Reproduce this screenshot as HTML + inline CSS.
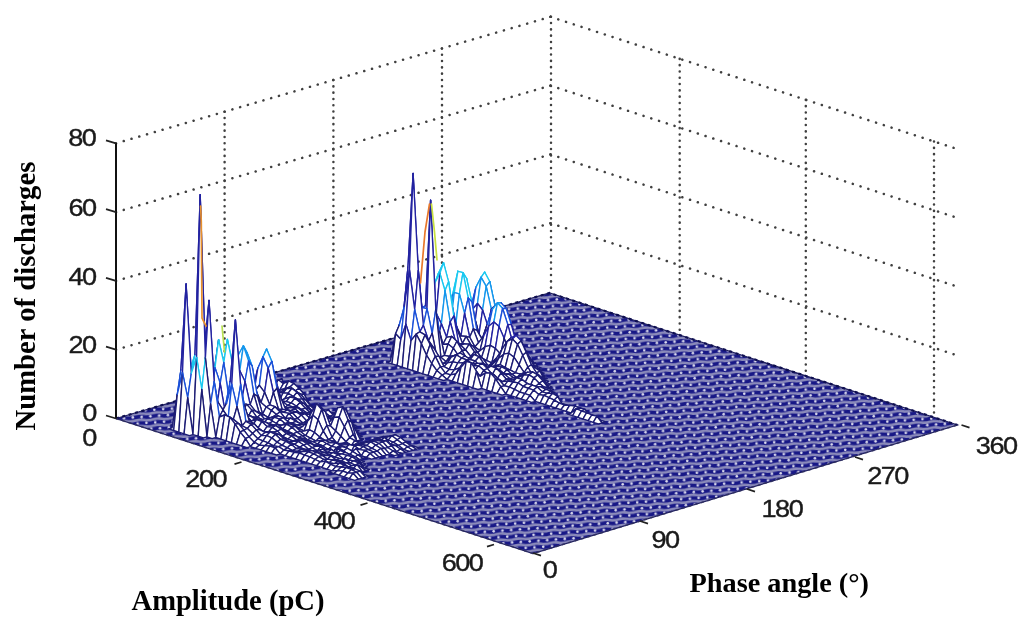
<!DOCTYPE html><html><head><meta charset="utf-8"><title>PRPD 3D</title><style>html,body{margin:0;padding:0;background:#fff;}svg{display:block}.tk{font-family:"Liberation Sans",Arial,sans-serif;font-size:23px;fill:#1a1a1a;stroke:#1a1a1a;stroke-width:0.35px;letter-spacing:-1.3px}.ti{font-family:"Liberation Serif","Times New Roman",serif;font-weight:bold;font-size:29px;fill:#000}.c0{stroke:#1c1c74}.c1{stroke:#2222a0}.c2{stroke:#1a50d8}.c3{stroke:#1496ec}.c4{stroke:#19c8f0}.c5{stroke:#5ee6c8}.c6{stroke:#c6e848}.c7{stroke:#f0c030}.c8{stroke:#ee8a2c}.c9{stroke:#d85a20}.f{stroke:none}.e{fill:none}</style></head><body><svg width="1024" height="626" viewBox="0 0 1024 626"><rect width="1024" height="626" fill="#fff"/><g fill="none" stroke="#404040" stroke-width="2.5" stroke-linecap="round"><path d="M550.5 223.2L116 349.7M550.5 154.4L116 280.9M550.5 85.6L116 212.1M550.5 16.8L116 143.3" stroke-dasharray="0.1 7.98"/><path d="M550.5 223.2L954.5 354.5M550.5 154.4L954.5 285.7M550.5 85.6L954.5 216.9M550.5 16.8L954.5 148.1" stroke-dasharray="0.1 8.05"/><path d="M224.6 111.7V386.9M333.4 80V355.2M442 48.4V323.6M551 16.7V291.9M679.7 58.8V334M805.8 99.8V375M934 141.5V416.7" stroke-dasharray="0.1 6.2"/></g><defs><pattern id="fl" patternUnits="userSpaceOnUse" width="17.6" height="12.6" patternTransform="rotate(-4)"><rect width="17.6" height="12.6" fill="#8a8aba"/><path d="M0 1.9C2.9 1.2 5.9 1.2 8.8 1.9S14.7 2.6 17.6 1.9V5.5C14.7 6.2 11.7 6.2 8.8 5.5S2.9 4.8 0 5.5Z" fill="#181886"/><path d="M0 8.2C2.9 7.5 5.9 7.5 8.8 8.2S14.7 8.9 17.6 8.2V11.8C14.7 12.5 11.7 12.5 8.8 11.8S2.9 11.1 0 11.8Z" fill="#181886"/><g fill="#dcdcee"><circle cx="2.2" cy="3.7" r="1.3"/><circle cx="11" cy="3.7" r="1.3"/><circle cx="6.6" cy="10" r="1.3"/><circle cx="15.4" cy="10" r="1.3"/></g></pattern></defs><path d="M116 418.5L549.5 293L957.5 425L533 553.5Z" fill="url(#fl)" stroke="#20205e" stroke-width="1.2"/><path d="M116 418.5L549.5 293L957.5 425" fill="none" stroke="#0e0e50" stroke-width="2.2" stroke-dasharray="3 3.6"/><path d="M116 418.5L533 553.5L957.5 425" fill="none" stroke="#303060" stroke-width="1.6" stroke-dasharray="3 3.6" opacity="0.8"/><g fill="#fff" stroke-width="1.35" stroke-linejoin="round" stroke-linecap="round"><path class="c0" d="M473.4 337l3.6-1l5.2 1.6l-3.7-18.5z"/><path class="c0" d="M469.8 338.1l3.6-1.1l5.1-17.9l-3.6-2.5z"/><path class="c0" d="M478.5 319.1l3.7 18.5l5.1 1.7l-3.6-19.9z"/><path class="c0" d="M466.2 339.1l3.6-1l5.1-21.5l-3.6 0.2z"/><path class="c0" d="M474.9 316.6l3.6 2.5l5.2 0.3l-3.6-2.7z"/><path class="c0" d="M462.6 340.2l3.6-1.1l5.1-22.3l-3.6 7.8z"/><path class="c0" d="M483.7 319.4l3.6 19.9l5.1 1.7l-3.6-16.6z"/><path class="c0" d="M471.3 316.8l3.6-0.2l5.2 0.1l-3.6 5.2z"/><path class="c0" d="M459 341.2l3.6-1l5.1-15.6l-3.6-10z"/><path class="c0" d="M480.1 316.7l3.6 2.7l5.1 5l-3.6-2.1z"/><path class="c0" d="M467.7 324.6l3.6-7.8l5.2 5.1l-3.6 4.1z"/><path class="c0" d="M488.8 324.4l3.6 16.6l5.1 1.6l-3.6-20.4z"/><path class="c0" d="M455.4 342.3l3.6-1.1l5.1-26.6l-3.6-2.1z"/><path class="c0" d="M476.5 321.9l3.6-5.2l5.1 5.6l-3.6 4.5z"/><path class="c0" d="M464.1 314.6l3.6 10l5.2 1.4l-3.6-10.1z"/><path class="c0" d="M485.2 322.3l3.6 2.1l5.1-2.2l-3.6-2.5z"/><path class="c0" d="M451.8 343.3l3.6-1l5.1-29.8l-3.6-2.3z"/><path class="c0" d="M472.9 326l3.6-4.1l5.1 4.9l-3.6-11.7z"/><path class="c0" d="M493.9 322.2l3.6 20.4l5.2 1.7l-3.6 1z"/><path class="c0" d="M460.5 312.5l3.6 2.1l5.2 1.3l-3.6-2.1z"/><path class="c0" d="M481.6 326.8l3.6-4.5l5.1-2.6l-3.6 2.1z"/><path class="c0" d="M448.2 344.4l3.6-1.1l5.1-33.1l-3.6 8.8z"/><path class="f" d="M469.3 315.9l3.6 10.1l5.1-10.9l-3.6-10z"/><path class="e c0" d="M469.3 315.9L472.9 326M472.9 326L478 315.1"/><path class="e c1" d="M469.3 315.9L474.4 305.1M474.4 305.1L478 315.1"/><path class="c0" d="M490.3 319.7l3.6 2.5l5.2 23.1l-3.6-25.1z"/><path class="c0" d="M456.9 310.2l3.6 2.3l5.2 1.3l-3.7 6.9z"/><path class="f" d="M478 315.1l3.6 11.7l5.1-5l-3.6-22.4z"/><path class="e c0" d="M478 315.1L481.6 326.8M481.6 326.8L486.7 321.8"/><path class="e c1" d="M478 315.1L483.1 299.4M483.1 299.4L486.7 321.8"/><path class="c0" d="M444.6 345.4l3.6-1l5.1-25.4l-3.6 0.5z"/><path class="f" d="M465.7 313.8l3.6 2.1l5.1-10.8l-3.6 3.1z"/><path class="e c0" d="M465.7 313.8L469.3 315.9"/><path class="e c1" d="M465.7 313.8L470.8 308.2M469.3 315.9L474.4 305.1M470.8 308.2L474.4 305.1"/><path class="c0" d="M486.7 321.8l3.6-2.1l5.2 0.5l-3.6-1.3z"/><path class="c0" d="M453.3 319l3.6-8.8l5.1 10.5l-3.6 4.4z"/><path class="f" d="M474.4 305.1l3.6 10l5.1-15.7l-3.6-16.5z"/><path class="e c1" d="M474.4 305.1L478 315.1M478 315.1L483.1 299.4"/><path class="e c3" d="M474.4 305.1L479.5 282.9M479.5 282.9L483.1 299.4"/><path class="c0" d="M495.5 320.2l3.6 25.1l5.1 1.7l-3.6-21.6z"/><path class="c0" d="M441 346.5l3.6-1.1l5.1-25.9l-3.6 6.6z"/><path class="f" d="M462 320.7l3.7-6.9l5.1-5.6l-3.6 12.1z"/><path class="e c0" d="M467.2 320.3L462 320.7L465.7 313.8"/><path class="e c1" d="M465.7 313.8L470.8 308.2M467.2 320.3L470.8 308.2"/><path class="f" d="M483.1 299.4l3.6 22.4l5.2-2.9l-3.6-26.9z"/><path class="e c1" d="M483.1 299.4L486.7 321.8"/><path class="e c2" d="M483.1 299.4L488.3 292M488.3 292L491.9 318.9"/><path class="e c0" d="M486.7 321.8L491.9 318.9"/><path class="c0" d="M449.7 319.5l3.6-0.5l5.1 6.1l-3.6-0.2z"/><path class="f" d="M470.8 308.2l3.6-3.1l5.1-22.2l-3.6 4.5z"/><path class="e c1" d="M470.8 308.2L474.4 305.1"/><path class="e c2" d="M470.8 308.2L475.9 287.4"/><path class="e c3" d="M474.4 305.1L479.5 282.9M475.9 287.4L479.5 282.9"/><path class="c0" d="M491.9 318.9l3.6 1.3l5.1 5.2l-3.6-2z"/><path class="c0" d="M437.4 347.5l3.6-1l5.1-20.4l-3.6-3.2z"/><path class="c0" d="M458.4 325.1l3.6-4.4l5.2-0.4l-3.6 0.7z"/><path class="f" d="M479.5 282.9l3.6 16.5l5.2-7.4l-3.6-19.8z"/><path class="e c3" d="M479.5 282.9L483.1 299.4"/><path class="e c4" d="M479.5 282.9L484.7 272.2M484.7 272.2L488.3 292"/><path class="e c2" d="M483.1 299.4L488.3 292"/><path class="c0" d="M500.6 325.4l3.6 21.6l5.1 1.7l-3.6-22.8z"/><path class="c0" d="M446.1 326.1l3.6-6.6l5.1 5.4l-3.6-2.2z"/><path class="f" d="M467.2 320.3l3.6-12.1l5.1-20.8l-3.6 22.1z"/><path class="e c1" d="M472.3 309.5L467.2 320.3L470.8 308.2"/><path class="e c2" d="M470.8 308.2L475.9 287.4M472.3 309.5L475.9 287.4"/><path class="f" d="M488.3 292l3.6 26.9l5.1 4.5l-3.6-24z"/><path class="e c2" d="M493.4 299.4L488.3 292L491.9 318.9"/><path class="e c0" d="M491.9 318.9L497 323.4"/><path class="e c1" d="M493.4 299.4L497 323.4"/><path class="c0" d="M433.8 348.6l3.6-1.1l5.1-24.6l-3.6-3.4z"/><path class="c0" d="M454.8 324.9l3.6 0.2l5.2-4.1l-3.6-4.7z"/><path class="f" d="M475.9 287.4l3.6-4.5l5.2-10.7l-3.6 5.1z"/><path class="e c3" d="M481.1 277.3L475.9 287.4L479.5 282.9"/><path class="e c4" d="M479.5 282.9L484.7 272.2M481.1 277.3L484.7 272.2"/><path class="c0" d="M497 323.4l3.6 2l5.1 0.5l-3.6 4.3z"/><path class="c0" d="M442.5 322.9l3.6 3.2l5.1-3.4l-3.6-1.4z"/><path class="f" d="M463.6 321l3.6-0.7l5.1-10.8l-3.6 16z"/><path class="e c0" d="M468.7 325.5L463.6 321L467.2 320.3"/><path class="e c1" d="M467.2 320.3L472.3 309.5M468.7 325.5L472.3 309.5"/><path class="f" d="M484.7 272.2l3.6 19.8l5.1 7.4l-3.6-17.7z"/><path class="e c4" d="M489.8 281.7L484.7 272.2L488.3 292"/><path class="e c2" d="M488.3 292L493.4 299.4"/><path class="e c3" d="M489.8 281.7L493.4 299.4"/><path class="c0" d="M505.7 325.9l3.6 22.8l5.1 1.6l-3.6-18.8z"/><path class="c0" d="M430.1 349.6l3.7-1l5.1-29.1l-3.6 5.8z"/><path class="f" d="M451.2 322.7l3.6 2.2l5.2-8.6l-3.6-18.6z"/><path class="e c0" d="M451.2 322.7L454.8 324.9M454.8 324.9L460 316.3"/><path class="e c2" d="M451.2 322.7L456.4 297.7M456.4 297.7L460 316.3"/><path class="f" d="M472.3 309.5l3.6-22.1l5.2-10.1l-3.6 26.2z"/><path class="e c2" d="M472.3 309.5L475.9 287.4"/><path class="e c1" d="M472.3 309.5L477.5 303.5"/><path class="e c3" d="M475.9 287.4L481.1 277.3M477.5 303.5L481.1 277.3"/><path class="f" d="M493.4 299.4l3.6 24l5.1 6.8l-3.6-12.9z"/><path class="e c1" d="M498.5 317.3L493.4 299.4L497 323.4"/><path class="e c0" d="M497 323.4L502.1 330.2M498.5 317.3L502.1 330.2"/><path class="c0" d="M438.9 319.5l3.6 3.4l5.1-1.6l-3.6 5.5z"/><path class="f" d="M460 316.3l3.6 4.7l5.1 4.5l-3.6-21.6z"/><path class="e c0" d="M460 316.3L463.6 321M463.6 321L468.7 325.5"/><path class="e c1" d="M460 316.3L465.1 303.9M465.1 303.9L468.7 325.5"/><path class="f" d="M481.1 277.3l3.6-5.1l5.1 9.5l-3.6 4.6z"/><path class="e c4" d="M481.1 277.3L484.7 272.2M484.7 272.2L489.8 281.7"/><path class="e c3" d="M481.1 277.3L486.2 286.3M486.2 286.3L489.8 281.7"/><path class="c0" d="M502.1 330.2l3.6-4.3l5.1 5.6l-3.5 3.8z"/><path class="c0" d="M426.5 350.7l3.6-1.1l5.2-24.3l-3.6 11.1z"/><path class="f" d="M447.6 321.3l3.6 1.4l5.2-25l-3.6-3.8z"/><path class="e c0" d="M447.6 321.3L451.2 322.7"/><path class="e c2" d="M447.6 321.3L452.8 293.9M451.2 322.7L456.4 297.7M452.8 293.9L456.4 297.7"/><path class="f" d="M468.7 325.5l3.6-16l5.2-6l-3.6 27.3z"/><path class="e c1" d="M468.7 325.5L472.3 309.5M472.3 309.5L477.5 303.5M473.9 330.8L477.5 303.5"/><path class="e c0" d="M468.7 325.5L473.9 330.8"/><path class="f" d="M489.8 281.7l3.6 17.7l5.1 17.9l-3.6-11.6z"/><path class="e c3" d="M494.9 305.7L489.8 281.7L493.4 299.4"/><path class="e c1" d="M493.4 299.4L498.5 317.3M494.9 305.7L498.5 317.3"/><path class="c0" d="M510.8 331.5l3.6 18.8l5.2 1.7l-3.6-12.1z"/><path class="c0" d="M435.3 325.3l3.6-5.8l5.1 7.3l-3.6 4.9z"/><path class="f" d="M456.4 297.7l3.6 18.6l5.1-12.4l-3.6-26.7z"/><path class="e c2" d="M456.4 297.7L460 316.3"/><path class="e c4" d="M456.4 297.7L461.5 277.2M461.5 277.2L465.1 303.9"/><path class="e c1" d="M460 316.3L465.1 303.9"/><path class="f" d="M477.5 303.5l3.6-26.2l5.1 9l-3.6 23.7z"/><path class="e c3" d="M477.5 303.5L481.1 277.3M481.1 277.3L486.2 286.3M482.6 310L486.2 286.3"/><path class="e c1" d="M477.5 303.5L482.6 310"/><path class="c0" d="M498.5 317.3l3.6 12.9l5.2 5.1l-3.6 0.5z"/><path class="c0" d="M422.9 351.7l3.6-1l5.2-14.3l-3.6-5.7z"/><path class="f" d="M444 326.8l3.6-5.5l5.2-27.4l-3.6 15.3z"/><path class="e c0" d="M444 326.8L447.6 321.3"/><path class="e c1" d="M444 326.8L449.2 309.2"/><path class="e c2" d="M447.6 321.3L452.8 293.9M449.2 309.2L452.8 293.9"/><path class="f" d="M465.1 303.9l3.6 21.6l5.2 5.3l-3.6-25.5z"/><path class="e c1" d="M470.3 305.3L465.1 303.9L468.7 325.5M470.3 305.3L473.9 330.8"/><path class="e c0" d="M468.7 325.5L473.9 330.8"/><path class="f" d="M486.2 286.3l3.6-4.6l5.1 24l-3.6 3.5z"/><path class="e c3" d="M491.3 309.2L486.2 286.3L489.8 281.7M489.8 281.7L494.9 305.7"/><path class="e c1" d="M491.3 309.2L494.9 305.7"/><path class="c0" d="M507.3 335.3l3.5-3.8l5.2 8.4l-3.6 2.9z"/><path class="c0" d="M431.7 336.4l3.6-11.1l5.1 6.4l-3.6-12.5z"/><path class="f" d="M452.8 293.9l3.6 3.8l5.1-20.5l-3.6-5.9z"/><path class="e c2" d="M452.8 293.9L456.4 297.7"/><path class="e c4" d="M452.8 293.9L457.9 271.3M456.4 297.7L461.5 277.2M457.9 271.3L461.5 277.2"/><path class="f" d="M473.9 330.8l3.6-27.3l5.1 6.5l-3.6 24.7z"/><path class="e c1" d="M473.9 330.8L477.5 303.5M477.5 303.5L482.6 310M479 334.7L482.6 310"/><path class="e c0" d="M473.9 330.8L479 334.7"/><path class="f" d="M494.9 305.7l3.6 11.6l5.2 18.5l-3.6-5.4z"/><path class="e c1" d="M500.1 330.4L494.9 305.7L498.5 317.3"/><path class="e c0" d="M498.5 317.3L503.7 335.8M500.1 330.4L503.7 335.8"/><path class="c0" d="M419.3 352.8l3.6-1.1l5.2-21l-3.6-10.1z"/><path class="c0" d="M516 339.9l3.6 12.1l5.1 1.6l-3.6 1.1z"/><path class="f" d="M440.4 331.7l3.6-4.9l5.2-17.6l-3.6 22.2z"/><path class="e c0" d="M445.6 331.4L440.4 331.7L444 326.8"/><path class="e c1" d="M444 326.8L449.2 309.2M445.6 331.4L449.2 309.2"/><path class="f" d="M461.5 277.2l3.6 26.7l5.2 1.4l-3.7-26.8z"/><path class="e c4" d="M466.6 278.5L461.5 277.2L465.1 303.9M466.6 278.5L470.3 305.3"/><path class="e c1" d="M465.1 303.9L470.3 305.3"/><path class="f" d="M482.6 310l3.6-23.7l5.1 22.9l-3.6 16.4z"/><path class="e c3" d="M482.6 310L486.2 286.3M486.2 286.3L491.3 309.2"/><path class="e c1" d="M482.6 310L487.7 325.6M487.7 325.6L491.3 309.2"/><path class="c0" d="M503.7 335.8l3.6-0.5l5.1 7.5l-3.6 5.5z"/><path class="f" d="M428.1 330.7l3.6 5.7l5.1-17.2l-3.6-15.7z"/><path class="e c0" d="M428.1 330.7L431.7 336.4M431.7 336.4L436.8 319.2"/><path class="e c1" d="M428.1 330.7L433.2 303.5M433.2 303.5L436.8 319.2"/><path class="f" d="M449.2 309.2l3.6-15.3l5.1-22.6l-3.6 21.3z"/><path class="e c2" d="M449.2 309.2L452.8 293.9"/><path class="e c3" d="M449.2 309.2L454.3 292.6"/><path class="e c4" d="M452.8 293.9L457.9 271.3M454.3 292.6L457.9 271.3"/><path class="f" d="M470.3 305.3l3.6 25.5l5.1 3.9l-3.6-13.9z"/><path class="e c1" d="M475.4 320.8L470.3 305.3L473.9 330.8"/><path class="e c0" d="M473.9 330.8L479 334.7M475.4 320.8L479 334.7"/><path class="f" d="M491.3 309.2l3.6-3.5l5.2 24.7l-3.6 2.3z"/><path class="e c1" d="M496.5 332.7L491.3 309.2L494.9 305.7M494.9 305.7L500.1 330.4"/><path class="e c0" d="M496.5 332.7L500.1 330.4"/><path class="c0" d="M415.7 353.8l3.6-1l5.2-32.2l-3.6 1.7z"/><path class="c0" d="M512.4 342.8l3.6-2.9l5.1 14.8l-3.6-4.9z"/><path class="f" d="M436.8 319.2l3.6 12.5l5.2-0.3l-3.6-31.9z"/><path class="e c0" d="M436.8 319.2L440.4 331.7M440.4 331.7L445.6 331.4"/><path class="e c2" d="M436.8 319.2L442 299.5M442 299.5L445.6 331.4"/><path class="c4" d="M457.9 271.3l3.6 5.9l5.1 1.3l-3.6-5.9z"/><path class="f" d="M479 334.7l3.6-24.7l5.1 15.6l-3.6 16.2z"/><path class="e c1" d="M479 334.7L482.6 310M482.6 310L487.7 325.6"/><path class="e c0" d="M479 334.7L484.1 341.8M484.1 341.8L487.7 325.6"/><path class="c0" d="M500.1 330.4l3.6 5.4l5.1 12.5l-3.6-1.5z"/><path class="f" d="M424.5 320.6l3.6 10.1l5.1-27.2l-3.6 6.3z"/><path class="e c0" d="M424.5 320.6L428.1 330.7"/><path class="e c1" d="M424.5 320.6L429.6 309.8M428.1 330.7L433.2 303.5M429.6 309.8L433.2 303.5"/><path class="f" d="M445.6 331.4l3.6-22.2l5.1-16.6l-3.6 30.9z"/><path class="e c1" d="M445.6 331.4L449.2 309.2"/><path class="e c0" d="M445.6 331.4L450.7 323.5"/><path class="e c3" d="M449.2 309.2L454.3 292.6M450.7 323.5L454.3 292.6"/><path class="f" d="M466.6 278.5l3.7 26.8l5.1 15.5l-3.6-18.9z"/><path class="e c4" d="M471.8 301.9L466.6 278.5L470.3 305.3"/><path class="e c1" d="M470.3 305.3L475.4 320.8"/><path class="e c2" d="M471.8 301.9L475.4 320.8"/><path class="f" d="M487.7 325.6l3.6-16.4l5.2 23.5l-3.6 8.9z"/><path class="e c1" d="M487.7 325.6L491.3 309.2M491.3 309.2L496.5 332.7"/><path class="e c0" d="M487.7 325.6L492.9 341.6M492.9 341.6L496.5 332.7"/><path class="c0" d="M412.1 354.9l3.6-1.1l5.2-31.5l-3.6 13.5z"/><path class="c0" d="M508.8 348.3l3.6-5.5l5.1 7l-3.6-2z"/><path class="f" d="M433.2 303.5l3.6 15.7l5.2-19.7l-3.6-26z"/><path class="e c1" d="M433.2 303.5L436.8 319.2"/><path class="e c4" d="M433.2 303.5L438.4 273.5M438.4 273.5L442 299.5"/><path class="e c2" d="M436.8 319.2L442 299.5"/><path class="f" d="M454.3 292.6l3.6-21.3l5.1 1.3l-3.6 21.3z"/><path class="e c4" d="M454.3 292.6L457.9 271.3M457.9 271.3L463 272.6M459.4 293.9L463 272.6"/><path class="e c3" d="M454.3 292.6L459.4 293.9"/><path class="c0" d="M475.4 320.8l3.6 13.9l5.1 7.1l-3.6-2.4z"/><path class="c0" d="M496.5 332.7l3.6-2.3l5.1 16.4l-3.6 1.6z"/><path class="f" d="M420.9 322.3l3.6-1.7l5.1-10.8l-3.6 21.4z"/><path class="e c0" d="M426 331.2L420.9 322.3L424.5 320.6"/><path class="e c1" d="M424.5 320.6L429.6 309.8M426 331.2L429.6 309.8"/><path class="c0" d="M517.5 349.8l3.6 4.9l5.1 1.6l-3.6 1.1z"/><path class="f" d="M442 299.5l3.6 31.9l5.1-7.9l-3.6-30.7z"/><path class="e c2" d="M442 299.5L445.6 331.4"/><path class="e c3" d="M442 299.5L447.1 292.8M447.1 292.8L450.7 323.5"/><path class="e c0" d="M445.6 331.4L450.7 323.5"/><path class="f" d="M463 272.6l3.6 5.9l5.2 23.4l-3.6-4z"/><path class="e c4" d="M468.2 297.9L463 272.6L466.6 278.5M466.6 278.5L471.8 301.9"/><path class="e c2" d="M468.2 297.9L471.8 301.9"/><path class="c0" d="M484.1 341.8l3.6-16.2l5.2 16l-3.6 2.3z"/><path class="c0" d="M408.5 355.9l3.6-1l5.2-19.1l-3.6 3.3z"/><path class="c0" d="M505.2 346.8l3.6 1.5l5.1-0.5l-3.6-2.1z"/><path class="f" d="M429.6 309.8l3.6-6.3l5.2-30l-3.6 9.4z"/><path class="e c1" d="M429.6 309.8L433.2 303.5"/><path class="e c3" d="M429.6 309.8L434.8 282.9"/><path class="e c4" d="M433.2 303.5L438.4 273.5M434.8 282.9L438.4 273.5"/><path class="f" d="M450.7 323.5l3.6-30.9l5.1 1.3l-3.6 31.1z"/><path class="e c3" d="M450.7 323.5L454.3 292.6M454.3 292.6L459.4 293.9M455.8 325L459.4 293.9"/><path class="e c0" d="M450.7 323.5L455.8 325"/><path class="f" d="M471.8 301.9l3.6 18.9l5.1 18.6l-3.6-9.1z"/><path class="e c2" d="M476.9 330.3L471.8 301.9L475.4 320.8"/><path class="e c0" d="M475.4 320.8L480.5 339.4M476.9 330.3L480.5 339.4"/><path class="c0" d="M492.9 341.6l3.6-8.9l5.1 15.7l-3.6-1.7z"/><path class="c0" d="M417.3 335.8l3.6-13.5l5.1 8.9l-3.6-3.7z"/><path class="c0" d="M513.9 347.8l3.6 2l5.1 7.6l-3.6-10.7z"/><path class="f" d="M438.4 273.5l3.6 26l5.1-6.7l-3.6-30.1z"/><path class="e c4" d="M443.5 262.7L438.4 273.5L442 299.5M443.5 262.7L447.1 292.8"/><path class="e c3" d="M442 299.5L447.1 292.8"/><path class="f" d="M459.4 293.9l3.6-21.3l5.2 25.3l-3.6 15.6z"/><path class="e c4" d="M459.4 293.9L463 272.6M463 272.6L468.2 297.9"/><path class="e c3" d="M459.4 293.9L464.6 313.5"/><path class="e c2" d="M464.6 313.5L468.2 297.9"/><path class="c0" d="M480.5 339.4l3.6 2.4l5.2 2.1l-3.6-5.4z"/><path class="c0" d="M404.9 357l3.6-1.1l5.2-16.8l-3.7-5.6z"/><path class="c0" d="M501.6 348.4l3.6-1.6l5.1-1.1l-3.6 6.4z"/><path class="f" d="M426 331.2l3.6-21.4l5.2-26.9l-3.6 35.1z"/><path class="e c1" d="M431.2 318L426 331.2L429.6 309.8"/><path class="e c3" d="M429.6 309.8L434.8 282.9M431.2 318L434.8 282.9"/><path class="f" d="M447.1 292.8l3.6 30.7l5.1 1.5l-3.6-18.8z"/><path class="e c3" d="M452.2 306.2L447.1 292.8L450.7 323.5"/><path class="e c0" d="M450.7 323.5L455.8 325"/><path class="e c2" d="M452.2 306.2L455.8 325"/><path class="f" d="M468.2 297.9l3.6 4l5.1 28.4l-3.6-1.4z"/><path class="e c2" d="M473.3 328.9L468.2 297.9L471.8 301.9M471.8 301.9L476.9 330.3"/><path class="e c0" d="M473.3 328.9L476.9 330.3"/><path class="c0" d="M489.3 343.9l3.6-2.3l5.1 5.1l-3.6-12z"/><path class="c0" d="M413.7 339.1l3.6-3.3l5.1-8.3l-3.6 1.2z"/><path class="c0" d="M510.3 345.7l3.6 2.1l5.1-1.1l-3.5-3z"/><path class="c4" d="M434.8 282.9l3.6-9.4l5.1-10.8l-3.6 10.7z"/><path class="f" d="M455.8 325l3.6-31.1l5.2 19.6l-3.6 22.5z"/><path class="e c3" d="M455.8 325L459.4 293.9M459.4 293.9L464.6 313.5"/><path class="e c0" d="M455.8 325L461 336"/><path class="e c1" d="M461 336L464.6 313.5"/><path class="c0" d="M476.9 330.3l3.6 9.1l5.2-0.9l-3.6 0.6z"/><path class="c0" d="M401.3 358l3.6-1l5.1-23.5l-3.6 1z"/><path class="c0" d="M498 346.7l3.6 1.7l5.1 3.7l-3.6-8.8z"/><path class="f" d="M422.4 327.5l3.6 3.7l5.2-13.2l-3.6 15.5z"/><path class="e c0" d="M427.6 333.5L422.4 327.5L426 331.2"/><path class="e c1" d="M426 331.2L431.2 318M427.6 333.5L431.2 318"/><path class="c0" d="M519 346.7l3.6 10.7l5.2 1.7l-3.6-7.5z"/><path class="f" d="M443.5 262.7l3.6 30.1l5.1 13.4l-3.6-24.4z"/><path class="e c4" d="M448.6 281.8L443.5 262.7L447.1 292.8M448.6 281.8L452.2 306.2"/><path class="e c3" d="M447.1 292.8L452.2 306.2"/><path class="f" d="M464.6 313.5l3.6-15.6l5.1 31l-3.6 8.4z"/><path class="e c2" d="M464.6 313.5L468.2 297.9M468.2 297.9L473.3 328.9"/><path class="e c1" d="M464.6 313.5L469.7 337.3"/><path class="e c0" d="M469.7 337.3L473.3 328.9"/><path class="c0" d="M485.7 338.5l3.6 5.4l5.1-9.2l-3.6-10.6z"/><path class="c0" d="M410 333.5l3.7 5.6l5.1-10.4l-3.6-0.8z"/><path class="c0" d="M506.7 352.1l3.6-6.4l5.2-2l-3.6 8z"/><path class="f" d="M431.2 318l3.6-35.1l5.1-9.5l-3.6 40.2z"/><path class="e c3" d="M431.2 318L434.8 282.9"/><path class="e c1" d="M431.2 318L436.3 313.6M436.3 313.6L439.9 273.4"/><path class="e c4" d="M434.8 282.9L439.9 273.4"/><path class="f" d="M452.2 306.2l3.6 18.8l5.2 11l-3.6-6.1z"/><path class="e c2" d="M457.4 329.9L452.2 306.2L455.8 325"/><path class="e c0" d="M455.8 325L461 336M457.4 329.9L461 336"/><path class="c0" d="M473.3 328.9l3.6 1.4l5.2 8.8l-3.6 3.7z"/><path class="f" d="M397.7 359l3.6-1l5.1-23.5l-3.6-15.7z"/><path class="e c0" d="M402.8 318.8L397.7 359L401.3 358M401.3 358L406.4 334.5"/><path class="e c1" d="M402.8 318.8L406.4 334.5"/><path class="c0" d="M494.4 334.7l3.6 12l5.1-3.4l-3.6-17.8z"/><path class="c0" d="M418.8 328.7l3.6-1.2l5.2 6l-3.7-0.2z"/><path class="c0" d="M515.5 343.7l3.5 3l5.2 4.9l-3.6-1.9z"/><path class="c4" d="M439.9 273.4l3.6-10.7l5.1 19.1l-3.6 8.9z"/><path class="f" d="M461 336l3.6-22.5l5.1 23.8l-3.6-0.9z"/><path class="e c1" d="M461 336L464.6 313.5M464.6 313.5L469.7 337.3"/><path class="e c0" d="M461 336L466.1 336.4M466.1 336.4L469.7 337.3"/><path class="c0" d="M482.1 339.1l3.6-0.6l5.1-14.4l-3.6 0.2z"/><path class="f" d="M406.4 334.5l3.6-1l5.2-5.6l-3.6-23.8z"/><path class="e c0" d="M406.4 334.5L410 333.5M410 333.5L415.2 327.9"/><path class="e c2" d="M406.4 334.5L411.6 304.1M411.6 304.1L415.2 327.9"/><path class="c0" d="M503.1 343.3l3.6 8.8l5.2-0.4l-3.6-9.5z"/><path class="f" d="M427.6 333.5l3.6-15.5l5.1-4.4l-3.6 23.7z"/><path class="e c1" d="M427.6 333.5L431.2 318M431.2 318L436.3 313.6M432.7 337.3L436.3 313.6"/><path class="e c0" d="M427.6 333.5L432.7 337.3"/><path class="c0" d="M524.2 351.6l3.6 7.5l5.1 1.6l-3.6 1.1z"/><path class="f" d="M448.6 281.8l3.6 24.4l5.2 23.7l-3.6-13.7z"/><path class="e c4" d="M453.8 316.2L448.6 281.8L452.2 306.2"/><path class="e c2" d="M452.2 306.2L457.4 329.9"/><path class="e c1" d="M453.8 316.2L457.4 329.9"/><path class="c0" d="M469.7 337.3l3.6-8.4l5.2 13.9l-3.6 4.1z"/><path class="f" d="M394.1 360.1l3.6-1.1l5.1-40.2l-3.6 6.4z"/><path class="e c0" d="M399.2 325.2L394.1 360.1L397.7 359M397.7 359L402.8 318.8"/><path class="e c1" d="M399.2 325.2L402.8 318.8"/><path class="f" d="M490.8 324.1l3.6 10.6l5.1-9.2l-3.6-15.9z"/><path class="e c0" d="M490.8 324.1L494.4 334.7M494.4 334.7L499.5 325.5"/><path class="e c2" d="M490.8 324.1L495.9 309.6M495.9 309.6L499.5 325.5"/><path class="f" d="M415.2 327.9l3.6 0.8l5.1 4.6l-3.6-13.3z"/><path class="e c0" d="M415.2 327.9L418.8 328.7M418.8 328.7L423.9 333.3"/><path class="e c1" d="M415.2 327.9L420.3 320M420.3 320L423.9 333.3"/><path class="c0" d="M511.9 351.7l3.6-8l5.1 6l-3.6 6.1z"/><path class="f" d="M436.3 313.6l3.6-40.2l5.1 17.3l-3.6 33.1z"/><path class="e c1" d="M441.4 323.8L436.3 313.6L439.9 273.4"/><path class="e c4" d="M439.9 273.4L445 290.7"/><path class="e c3" d="M441.4 323.8L445 290.7"/><path class="c0" d="M457.4 329.9l3.6 6.1l5.1 0.4l-3.6 7.1z"/><path class="c0" d="M478.5 342.8l3.6-3.7l5.1-14.8l-3.6 11.9z"/><path class="f" d="M402.8 318.8l3.6 15.7l5.2-30.4l-3.6-37z"/><path class="e c1" d="M408 267.1L402.8 318.8L406.4 334.5M408 267.1L411.6 304.1"/><path class="e c2" d="M406.4 334.5L411.6 304.1"/><path class="f" d="M499.5 325.5l3.6 17.8l5.2-1.1l-3.6-20.8z"/><path class="e c0" d="M499.5 325.5L503.1 343.3M503.1 343.3L508.3 342.2"/><path class="e c1" d="M499.5 325.5L504.7 321.4M504.7 321.4L508.3 342.2"/><path class="c0" d="M423.9 333.3l3.7 0.2l5.1 3.8l-3.6-9.4z"/><path class="c0" d="M520.6 349.7l3.6 1.9l5.1 10.2l-3.6-3.6z"/><path class="f" d="M445 290.7l3.6-8.9l5.2 34.4l-3.6 5.6z"/><path class="e c4" d="M445 290.7L448.6 281.8M448.6 281.8L453.8 316.2"/><path class="e c3" d="M445 290.7L450.2 321.8"/><path class="e c1" d="M450.2 321.8L453.8 316.2"/><path class="c0" d="M466.1 336.4l3.6 0.9l5.2 9.6l-3.6-1.2z"/><path class="c0" d="M390.5 361.1l3.6-1l5.1-34.9l-3.6 8.6z"/><path class="f" d="M487.2 324.3l3.6-0.2l5.1-14.5l-3.6 0z"/><path class="e c0" d="M487.2 324.3L490.8 324.1"/><path class="e c2" d="M487.2 324.3L492.3 309.6M490.8 324.1L495.9 309.6M492.3 309.6L495.9 309.6"/><path class="f" d="M411.6 304.1l3.6 23.8l5.1-7.9l-3.6-52.3z"/><path class="e c2" d="M411.6 304.1L415.2 327.9"/><path class="e c1" d="M411.6 304.1L416.7 267.7M415.2 327.9L420.3 320M416.7 267.7L420.3 320"/><path class="c0" d="M508.3 342.2l3.6 9.5l5.1 4.1l-3.6-10.6z"/><path class="f" d="M432.7 337.3l3.6-23.7l5.1 10.2l-3.6 15.6z"/><path class="e c1" d="M432.7 337.3L436.3 313.6M436.3 313.6L441.4 323.8M437.8 339.4L441.4 323.8"/><path class="e c0" d="M432.7 337.3L437.8 339.4"/><path class="f" d="M453.8 316.2l3.6 13.7l5.1 13.6l-3.6 1z"/><path class="e c1" d="M458.9 344.5L453.8 316.2L457.4 329.9"/><path class="e c0" d="M457.4 329.9L462.5 343.5M458.9 344.5L462.5 343.5"/><path class="c0" d="M474.9 346.9l3.6-4.1l5.1-6.6l-3.6 14.5z"/><path class="f" d="M399.2 325.2l3.6-6.4l5.2-51.7l-3.6 39.1z"/><path class="e c1" d="M399.2 325.2L402.8 318.8M402.8 318.8L408 267.1M404.4 306.2L408 267.1"/><path class="e c2" d="M399.2 325.2L404.4 306.2"/><path class="f" d="M495.9 309.6l3.6 15.9l5.2-4.1l-3.6-18.5z"/><path class="e c2" d="M501.1 302.9L495.9 309.6L499.5 325.5M501.1 302.9L504.7 321.4"/><path class="e c1" d="M499.5 325.5L504.7 321.4"/><path class="f" d="M420.3 320l3.6 13.3l5.2-5.4l-3.6-22z"/><path class="e c1" d="M420.3 320L423.9 333.3"/><path class="e c2" d="M420.3 320L425.5 305.9M425.5 305.9L429.1 327.9"/><path class="e c0" d="M423.9 333.3L429.1 327.9"/><path class="c0" d="M517 355.8l3.6-6.1l5.1 8.5l-3.6 1.2z"/><path class="f" d="M441.4 323.8l3.6-33.1l5.2 31.1l-3.6 15.5z"/><path class="e c3" d="M441.4 323.8L445 290.7M445 290.7L450.2 321.8"/><path class="e c1" d="M441.4 323.8L446.6 337.3M446.6 337.3L450.2 321.8"/><path class="c0" d="M462.5 343.5l3.6-7.1l5.2 9.3l-3.6 0.1z"/><path class="c0" d="M386.9 362.2l3.6-1.1l5.1-27.3l-3.6 30.1z"/><path class="f" d="M483.6 336.2l3.6-11.9l5.1-14.7l-3.6 16.7z"/><path class="e c0" d="M483.6 336.2L487.2 324.3"/><path class="e c1" d="M483.6 336.2L488.7 326.3"/><path class="e c2" d="M487.2 324.3L492.3 309.6M488.7 326.3L492.3 309.6"/><path class="c1" d="M408 267.1l3.6 37l5.1-36.4l-3.6-94.3z"/><path class="f" d="M504.7 321.4l3.6 20.8l5.1 3l-3.6-19.3z"/><path class="e c1" d="M509.8 325.9L504.7 321.4L508.3 342.2M509.8 325.9L513.4 345.2"/><path class="e c0" d="M508.3 342.2L513.4 345.2"/><path class="f" d="M429.1 327.9l3.6 9.4l5.1 2.1l-3.6-32.9z"/><path class="e c0" d="M429.1 327.9L432.7 337.3M432.7 337.3L437.8 339.4"/><path class="e c2" d="M429.1 327.9L434.2 306.5M434.2 306.5L437.8 339.4"/><path class="c0" d="M525.7 358.2l3.6 3.6l5.1 1.6l-3.5 1.1z"/><path class="f" d="M450.2 321.8l3.6-5.6l5.1 28.3l-3.6-3.9z"/><path class="e c1" d="M455.3 340.6L450.2 321.8L453.8 316.2M453.8 316.2L458.9 344.5"/><path class="e c0" d="M455.3 340.6L458.9 344.5"/><path class="c0" d="M471.3 345.7l3.6 1.2l5.1 3.8l-3.6 2.4z"/><path class="f" d="M395.6 333.8l3.6-8.6l5.2-19l-3.6 33.1z"/><path class="e c0" d="M400.8 339.3L395.6 333.8L399.2 325.2"/><path class="e c2" d="M399.2 325.2L404.4 306.2M400.8 339.3L404.4 306.2"/><path class="f" d="M492.3 309.6l3.6 0l5.2-6.7l-3.6-0.2z"/><path class="e c2" d="M492.3 309.6L495.9 309.6M495.9 309.6L501.1 302.9"/><path class="e c3" d="M492.3 309.6L497.5 302.7M497.5 302.7L501.1 302.9"/><path class="f" d="M416.7 267.7l3.6 52.3l5.2-14.1l-3.6 1.6z"/><path class="e c1" d="M421.9 307.5L416.7 267.7L420.3 320"/><path class="e c2" d="M420.3 320L425.5 305.9M421.9 307.5L425.5 305.9"/><path class="c0" d="M513.4 345.2l3.6 10.6l5.1 3.6l-3.6-8z"/><path class="f" d="M437.8 339.4l3.6-15.6l5.2 13.5l-3.6 7.1z"/><path class="e c1" d="M437.8 339.4L441.4 323.8M441.4 323.8L446.6 337.3"/><path class="e c0" d="M437.8 339.4L443 344.4M443 344.4L446.6 337.3"/><path class="c0" d="M458.9 344.5l3.6-1l5.2 2.3l-3.6-1.8z"/><path class="f" d="M480 350.7l3.6-14.5l5.1-9.9l-3.6 20.4z"/><path class="e c0" d="M485.1 346.7L480 350.7L483.6 336.2"/><path class="e c1" d="M483.6 336.2L488.7 326.3M485.1 346.7L488.7 326.3"/><path class="c1" d="M404.4 306.2l3.6-39.1l5.1-93.7l-3.6 96.4z"/><path class="f" d="M501.1 302.9l3.6 18.5l5.1 4.5l-3.6-17.3z"/><path class="e c2" d="M506.2 308.6L501.1 302.9L504.7 321.4M506.2 308.6L509.8 325.9"/><path class="e c1" d="M504.7 321.4L509.8 325.9"/><path class="f" d="M425.5 305.9l3.6 22l5.1-21.4l-3.6-106.2z"/><path class="e c2" d="M425.5 305.9L429.1 327.9M429.1 327.9L434.2 306.5"/><path class="e c1" d="M425.5 305.9L430.6 200.3M430.6 200.3L434.2 306.5"/><path class="c0" d="M522.1 359.4l3.6-1.2l5.2 6.3l-3.6-5.8z"/><path class="f" d="M446.6 337.3l3.6-15.5l5.1 18.8l-3.6-4.2z"/><path class="e c1" d="M446.6 337.3L450.2 321.8M450.2 321.8L455.3 340.6"/><path class="e c0" d="M446.6 337.3L451.7 336.4M451.7 336.4L455.3 340.6"/><path class="c0" d="M467.7 345.8l3.6-0.1l5.1 7.4l-3.6-6.9z"/><path class="c0" d="M392 363.9l3.6-30.1l5.2 5.5l-3.6 26.2z"/><path class="f" d="M488.7 326.3l3.6-16.7l5.2-6.9l-3.6 19.2z"/><path class="e c2" d="M488.7 326.3L492.3 309.6"/><path class="e c1" d="M488.7 326.3L493.9 321.9"/><path class="e c3" d="M492.3 309.6L497.5 302.7M493.9 321.9L497.5 302.7"/><path class="c1" d="M413.1 173.4l3.6 94.3l5.2 39.8l-3.6-37.1z"/><path class="f" d="M509.8 325.9l3.6 19.3l5.1 6.2l-3.6-14.3z"/><path class="e c1" d="M514.9 337.1L509.8 325.9L513.4 345.2"/><path class="e c0" d="M513.4 345.2L518.5 351.4M514.9 337.1L518.5 351.4"/><path class="f" d="M434.2 306.5l3.6 32.9l5.2 5l-3.6-13.2z"/><path class="e c2" d="M439.4 331.2L434.2 306.5L437.8 339.4"/><path class="e c0" d="M437.8 339.4L443 344.4M439.4 331.2L443 344.4"/><path class="c0" d="M455.3 340.6l3.6 3.9l5.2-0.5l-3.6 1z"/><path class="c0" d="M476.4 353.1l3.6-2.4l5.1-4l-3.6 11.1z"/><path class="f" d="M400.8 339.3l3.6-33.1l5.1-36.4l-3.6 54.4z"/><path class="e c2" d="M400.8 339.3L404.4 306.2"/><path class="e c1" d="M400.8 339.3L405.9 324.2M404.4 306.2L409.5 269.8M405.9 324.2L409.5 269.8"/><path class="f" d="M497.5 302.7l3.6 0.2l5.1 5.7l-3.6-0.1z"/><path class="e c3" d="M502.6 308.5L497.5 302.7L501.1 302.9"/><path class="e c2" d="M501.1 302.9L506.2 308.6M502.6 308.5L506.2 308.6"/><path class="f" d="M421.9 307.5l3.6-1.6l5.1-105.6l-3.6 108.3z"/><path class="e c2" d="M427 308.6L421.9 307.5L425.5 305.9"/><path class="e c1" d="M425.5 305.9L430.6 200.3M427 308.6L430.6 200.3"/><path class="c0" d="M518.5 351.4l3.6 8l5.2-0.7l-3.6-5.3z"/><path class="c0" d="M443 344.4l3.6-7.1l5.1-0.9l-3.6 7.6z"/><path class="c0" d="M464.1 344l3.6 1.8l5.1 0.4l-3.6-2z"/><path class="f" d="M485.1 346.7l3.6-20.4l5.2-4.4l-3.6 23.4z"/><path class="e c1" d="M485.1 346.7L488.7 326.3M488.7 326.3L493.9 321.9M490.3 345.3L493.9 321.9"/><path class="e c0" d="M485.1 346.7L490.3 345.3"/><path class="c1" d="M409.5 269.8l3.6-96.4l5.2 97l-3.6 39.2z"/><path class="f" d="M506.2 308.6l3.6 17.3l5.1 11.2l-3.6-12.6z"/><path class="e c2" d="M511.3 324.5L506.2 308.6L509.8 325.9"/><path class="e c1" d="M509.8 325.9L514.9 337.1M511.3 324.5L514.9 337.1"/><path class="f" d="M430.6 200.3l3.6 106.2l5.2 24.7l-3.6-22z"/><path class="e c1" d="M435.8 309.2L430.6 200.3L434.2 306.5"/><path class="e c2" d="M434.2 306.5L439.4 331.2M435.8 309.2L439.4 331.2"/><path class="c0" d="M527.3 358.7l3.6 5.8l5.1 1.6l-3.6-4.9z"/><path class="c0" d="M451.7 336.4l3.6 4.2l5.2 4.4l-3.6-3.7z"/><path class="c0" d="M472.8 346.2l3.6 6.9l5.1 4.7l-3.5-4.8z"/><path class="f" d="M397.2 365.5l3.6-26.2l5.1-15.1l-3.6 43z"/><path class="e c0" d="M402.3 367.2L397.2 365.5L400.8 339.3M402.3 367.2L405.9 324.2"/><path class="e c1" d="M400.8 339.3L405.9 324.2"/><path class="f" d="M493.9 321.9l3.6-19.2l5.1 5.8l-3.6 18z"/><path class="e c3" d="M493.9 321.9L497.5 302.7M497.5 302.7L502.6 308.5"/><path class="e c1" d="M493.9 321.9L499 326.5"/><path class="e c2" d="M499 326.5L502.6 308.5"/><path class="f" d="M418.3 270.4l3.6 37.1l5.1 1.1l-3.6 16.8z"/><path class="e c1" d="M423.4 325.4L418.3 270.4L421.9 307.5"/><path class="e c2" d="M421.9 307.5L427 308.6M423.4 325.4L427 308.6"/><path class="c0" d="M514.9 337.1l3.6 14.3l5.2 2l-3.6-3.2z"/><path class="c0" d="M439.4 331.2l3.6 13.2l5.1-0.4l-3.6 11.4z"/><path class="c0" d="M460.5 345l3.6-1l5.1 0.2l-3.6 5.8z"/><path class="c0" d="M481.5 357.8l3.6-11.1l5.2-1.4l-3.6 15.3z"/><path class="f" d="M405.9 324.2l3.6-54.4l5.2 39.8l-3.6 30.9z"/><path class="e c1" d="M411.1 340.5L405.9 324.2L409.5 269.8M409.5 269.8L414.7 309.6"/><path class="e c2" d="M411.1 340.5L414.7 309.6"/><path class="f" d="M502.6 308.5l3.6 0.1l5.1 15.9l-3.5 0.1z"/><path class="e c2" d="M507.8 324.6L502.6 308.5L506.2 308.6M506.2 308.6L511.3 324.5"/><path class="e c1" d="M507.8 324.6L511.3 324.5"/><path class="f" d="M427 308.6l3.6-108.3l5.2 108.9l-3.6 24.1z"/><path class="e c1" d="M427 308.6L430.6 200.3M430.6 200.3L435.8 309.2"/><path class="e c2" d="M427 308.6L432.2 333.3M432.2 333.3L435.8 309.2"/><path class="c0" d="M523.7 353.4l3.6 5.3l5.1 2.5l-3.6-4.5z"/><path class="c0" d="M448.1 344l3.6-7.6l5.2 4.9l-3.6 6.9z"/><path class="c0" d="M469.2 344.2l3.6 2l5.2 6.8l-3.6-1.2z"/><path class="f" d="M490.3 345.3l3.6-23.4l5.1 4.6l-3.6 21.9z"/><path class="e c1" d="M490.3 345.3L493.9 321.9M493.9 321.9L499 326.5M495.4 348.4L499 326.5"/><path class="e c0" d="M490.3 345.3L495.4 348.4"/><path class="f" d="M414.7 309.6l3.6-39.2l5.1 55l-3.6 6.4z"/><path class="e c1" d="M414.7 309.6L418.3 270.4M418.3 270.4L423.4 325.4M419.8 331.8L423.4 325.4"/><path class="e c2" d="M414.7 309.6L419.8 331.8"/><path class="f" d="M511.3 324.5l3.6 12.6l5.2 13.1l-3.6-7.2z"/><path class="e c1" d="M516.5 343L511.3 324.5L514.9 337.1"/><path class="e c0" d="M514.9 337.1L520.1 350.2M516.5 343L520.1 350.2"/><path class="f" d="M435.8 309.2l3.6 22l5.1 24.2l-3.6 1.8z"/><path class="e c2" d="M435.8 309.2L439.4 331.2"/><path class="e c0" d="M435.8 309.2L440.9 357.2M439.4 331.2L444.5 355.4M440.9 357.2L444.5 355.4"/><path class="c0" d="M532.4 361.2l3.6 4.9l5.1 1.7l-3.6 1.1z"/><path class="c0" d="M456.9 341.3l3.6 3.7l5.1 5l-3.6 0.4z"/><path class="c0" d="M478 353l3.5 4.8l5.2 2.8l-3.6 1.1z"/><path class="f" d="M402.3 367.2l3.6-43l5.2 16.3l-3.6 28.4z"/><path class="e c0" d="M407.5 368.9L402.3 367.2L405.9 324.2M407.5 368.9L411.1 340.5"/><path class="e c1" d="M405.9 324.2L411.1 340.5"/><path class="f" d="M499 326.5l3.6-18l5.2 16.1l-3.6 13.8z"/><path class="e c2" d="M499 326.5L502.6 308.5M502.6 308.5L507.8 324.6"/><path class="e c1" d="M499 326.5L504.2 338.4M504.2 338.4L507.8 324.6"/><path class="f" d="M423.4 325.4l3.6-16.8l5.2 24.7l-3.6 7.4z"/><path class="e c2" d="M423.4 325.4L427 308.6M427 308.6L432.2 333.3"/><path class="e c1" d="M423.4 325.4L428.6 340.7"/><path class="e c0" d="M428.6 340.7L432.2 333.3"/><path class="c0" d="M520.1 350.2l3.6 3.2l5.1 3.3l-3.6-0.1z"/><path class="c0" d="M444.5 355.4l3.6-11.4l5.2 4.2l-3.6 8.3z"/><path class="c0" d="M465.6 350l3.6-5.8l5.2 7.6l-3.6 4.6z"/><path class="c0" d="M486.7 360.6l3.6-15.3l5.1 3.1l-3.6 14.4z"/><path class="f" d="M411.1 340.5l3.6-30.9l5.1 22.2l-3.6 2.3z"/><path class="e c2" d="M411.1 340.5L414.7 309.6M414.7 309.6L419.8 331.8"/><path class="e c0" d="M411.1 340.5L416.2 334.1M416.2 334.1L419.8 331.8"/><path class="f" d="M507.8 324.6l3.5-0.1l5.2 18.5l-3.6 0.5z"/><path class="e c1" d="M512.9 343.5L507.8 324.6L511.3 324.5M511.3 324.5L516.5 343"/><path class="e c0" d="M512.9 343.5L516.5 343"/><path class="f" d="M432.2 333.3l3.6-24.1l5.1 48l-3.6 2z"/><path class="e c2" d="M432.2 333.3L435.8 309.2"/><path class="e c0" d="M432.2 333.3L437.3 359.2M435.8 309.2L440.9 357.2M437.3 359.2L440.9 357.2"/><path class="c0" d="M528.8 356.7l3.6 4.5l5.1 7.7l-3.6-4.8z"/><path class="c0" d="M453.3 348.2l3.6-6.9l5.1 9.1l-3.6 5.2z"/><path class="c0" d="M474.4 351.8l3.6 1.2l5.1 8.7l-3.6-0.1z"/><path class="f" d="M495.4 348.4l3.6-21.9l5.2 11.9l-3.6 15.9z"/><path class="e c1" d="M495.4 348.4L499 326.5M499 326.5L504.2 338.4"/><path class="e c0" d="M495.4 348.4L500.6 354.3M500.6 354.3L504.2 338.4"/><path class="f" d="M419.8 331.8l3.6-6.4l5.2 15.3l-3.6-5.8z"/><path class="e c1" d="M419.8 331.8L423.4 325.4M423.4 325.4L428.6 340.7"/><path class="e c0" d="M419.8 331.8L425 334.9M425 334.9L428.6 340.7"/><path class="c0" d="M516.5 343l3.6 7.2l5.1 6.4l-3.6 1.3z"/><path class="c0" d="M440.9 357.2l3.6-1.8l5.2 1.1l-3.6 5.2z"/><path class="c0" d="M462 350.4l3.6-0.4l5.2 6.4l-3.6 3.5z"/><path class="c0" d="M483.1 361.7l3.6-1.1l5.1 2.2l-3.6 3.6z"/><path class="c0" d="M407.5 368.9l3.6-28.4l5.1-6.4l-3.6 36.4z"/><path class="f" d="M504.2 338.4l3.6-13.8l5.1 18.9l-3.6 8.5z"/><path class="e c1" d="M504.2 338.4L507.8 324.6M507.8 324.6L512.9 343.5"/><path class="e c0" d="M504.2 338.4L509.3 352M509.3 352L512.9 343.5"/><path class="c0" d="M428.6 340.7l3.6-7.4l5.1 25.9l-3.6-11.2z"/><path class="c0" d="M525.2 356.6l3.6 0.1l5.1 7.4l-3.6-1.9z"/><path class="c0" d="M449.7 356.5l3.6-8.3l5.1 7.4l-3.6-0.2z"/><path class="c0" d="M470.8 356.4l3.6-4.6l5.1 9.8l-3.6 2z"/><path class="c0" d="M491.8 362.8l3.6-14.4l5.2 5.9l-3.6 3.2z"/><path class="c0" d="M416.2 334.1l3.6-2.3l5.2 3.1l-3.6 9z"/><path class="c0" d="M512.9 343.5l3.6-0.5l5.1 14.9l-3.6 0z"/><path class="c0" d="M437.3 359.2l3.6-2l5.2 4.5l-3.6 2.2z"/><path class="c0" d="M533.9 364.1l3.6 4.8l5.2 1.6l-3.6 1.1z"/><path class="c0" d="M458.4 355.6l3.6-5.2l5.2 9.5l-3.6-3.2z"/><path class="c0" d="M479.5 361.6l3.6 0.1l5.1 4.7l-3.6 1.1z"/><path class="c0" d="M500.6 354.3l3.6-15.9l5.1 13.6l-3.6-5.6z"/><path class="c0" d="M425 334.9l3.6 5.8l5.1 7.3l-3.6-3.5z"/><path class="c0" d="M521.6 357.9l3.6-1.3l5.1 5.6l-3.5-0.1z"/><path class="c0" d="M446.1 361.7l3.6-5.2l5.1-1.1l-3.6 1.8z"/><path class="c0" d="M467.2 359.9l3.6-3.5l5.1 7.2l-3.6-4.1z"/><path class="c0" d="M488.2 366.4l3.6-3.6l5.2-5.3l-3.6 5.9z"/><path class="c0" d="M412.6 370.5l3.6-36.4l5.2 9.8l-3.6 28.3z"/><path class="c0" d="M509.3 352l3.6-8.5l5.1 14.4l-3.6-11.7z"/><path class="c0" d="M433.7 348l3.6 11.2l5.2 4.7l-3.6-7.6z"/><path class="c0" d="M530.3 362.2l3.6 1.9l5.2 7.5l-3.6-8.5z"/><path class="c0" d="M454.8 355.4l3.6 0.2l5.2 1.1l-3.6-3.8z"/><path class="c0" d="M475.9 363.6l3.6-2l5.1 5.9l-3.6-5z"/><path class="c0" d="M497 357.5l3.6-3.2l5.1-7.9l-3.6 2.7z"/><path class="c0" d="M421.4 343.9l3.6-9l5.1 9.6l-3.6 10.7z"/><path class="c0" d="M518 357.9l3.6 0l5.2 4.2l-3.6-4.2z"/><path class="c0" d="M442.5 363.9l3.6-2.2l5.1-4.5l-3.6 5.7z"/><path class="c0" d="M463.6 356.7l3.6 3.2l5.1-0.4l-3.6-1z"/><path class="c0" d="M484.6 367.5l3.6-1.1l5.2-3l-3.6 4.7z"/><path class="c0" d="M505.7 346.4l3.6 5.6l5.1-5.8l-3.6-8.2z"/><path class="c0" d="M430.1 344.5l3.6 3.5l5.2 8.3l-3.6 0.1z"/><path class="c0" d="M526.8 362.1l3.5 0.1l5.2 0.9l-3.6 0.4z"/><path class="c0" d="M451.2 357.2l3.6-1.8l5.2-2.5l-3.6 2z"/><path class="c0" d="M472.3 359.5l3.6 4.1l5.1-1.1l-3.6-6.1z"/><path class="c0" d="M493.4 363.4l3.6-5.9l5.1-8.4l-3.6 9.5z"/><path class="c0" d="M417.8 372.2l3.6-28.3l5.1 11.3l-3.6 18.7z"/><path class="c0" d="M514.4 346.2l3.6 11.7l5.2 0l-3.6-13.3z"/><path class="c0" d="M438.9 356.3l3.6 7.6l5.1-1l-3.6 3.7z"/><path class="c0" d="M535.5 363.1l3.6 8.5l5.1 1.6l-3.6 1.1z"/><path class="c0" d="M460 352.9l3.6 3.8l5.1 1.8l-3.6-2.5z"/><path class="c0" d="M481 362.5l3.6 5l5.2 0.6l-3.6-3.8z"/><path class="c0" d="M502.1 349.1l3.6-2.7l5.1-8.4l-3.6 3.4z"/><path class="c0" d="M426.5 355.2l3.6-10.7l5.2 11.9l-3.6 7.1z"/><path class="c0" d="M523.2 357.9l3.6 4.2l5.1 1.4l-3.6-2.4z"/><path class="c0" d="M447.6 362.9l3.6-5.7l5.2-2.3l-3.6 7z"/><path class="c0" d="M468.7 358.5l3.6 1l5.1-3.1l-3.5-1.8z"/><path class="c0" d="M489.8 368.1l3.6-4.7l5.1-4.8l-3.6 7z"/><path class="f" d="M510.8 338l3.6 8.2l5.2-1.6l-3.6-9.2z"/><path class="e c0" d="M510.8 338L514.4 346.2M514.4 346.2L519.6 344.6"/><path class="e c1" d="M510.8 338L516 335.4M516 335.4L519.6 344.6"/><path class="c0" d="M435.3 356.4l3.6-0.1l5.1 10.3l-3.6 0z"/><path class="c0" d="M531.9 363.5l3.6-0.4l5.1 11.2l-3.6-7.2z"/><path class="c0" d="M456.4 354.9l3.6-2l5.1 3.1l-3.6 2z"/><path class="c0" d="M477.4 356.4l3.6 6.1l5.2 1.8l-3.6-5.9z"/><path class="c0" d="M498.5 358.6l3.6-9.5l5.1-7.7l-3.5 12.8z"/><path class="c0" d="M422.9 373.9l3.6-18.7l5.2 8.3l-3.6 12z"/><path class="c0" d="M519.6 344.6l3.6 13.3l5.1 3.2l-3.6-11.9z"/><path class="c0" d="M444 366.6l3.6-3.7l5.2-1l-3.6 7.5z"/><path class="c0" d="M465.1 356l3.6 2.5l5.2-3.9l-3.6 5.1z"/><path class="c0" d="M486.2 364.3l3.6 3.8l5.1-2.5l-3.6 2z"/><path class="f" d="M507.2 341.4l3.6-3.4l5.2-2.6l-3.6 3.6z"/><path class="e c0" d="M512.4 339L507.2 341.4L510.8 338"/><path class="e c1" d="M510.8 338L516 335.4M512.4 339L516 335.4"/><path class="c0" d="M431.7 363.5l3.6-7.1l5.1 10.2l-3.6 4z"/><path class="c0" d="M528.3 361.1l3.6 2.4l5.1 3.6l-3.6-0.6z"/><path class="c0" d="M452.8 361.9l3.6-7l5.1 3.1l-3.6 4.8z"/><path class="c0" d="M473.9 354.6l3.5 1.8l5.2 2l-3.6-1.7z"/><path class="c0" d="M494.9 365.6l3.6-7l5.2-4.4l-3.6 10.5z"/><path class="f" d="M516 335.4l3.6 9.2l5.1 4.6l-3.6-8.3z"/><path class="e c1" d="M521.1 340.9L516 335.4L519.6 344.6"/><path class="e c0" d="M519.6 344.6L524.7 349.2M521.1 340.9L524.7 349.2"/><path class="c0" d="M440.4 366.6l3.6 0l5.2 2.8l-3.6 3.9z"/><path class="c0" d="M537 367.1l3.6 7.2l5.2 1.7l-3.6 1z"/><path class="c0" d="M461.5 358l3.6-2l5.2 3.7l-3.6 0.2z"/><path class="c0" d="M482.6 358.4l3.6 5.9l5.1 3.3l-3.6-2.5z"/><path class="c0" d="M503.7 354.2l3.5-12.8l5.2-2.4l-3.6 14.2z"/><path class="c0" d="M428.1 375.5l3.6-12l5.1 7.1l-3.6 6.6z"/><path class="c0" d="M524.7 349.2l3.6 11.9l5.1 5.4l-3.6-8.4z"/><path class="c0" d="M449.2 369.4l3.6-7.5l5.1 0.9l-3.6 7z"/><path class="c0" d="M470.3 359.7l3.6-5.1l5.1 2.1l-3.6 4.3z"/><path class="c0" d="M491.3 367.6l3.6-2l5.2-0.9l-3.6 1.6z"/><path class="f" d="M512.4 339l3.6-3.6l5.1 5.5l-3.6 3.4z"/><path class="e c1" d="M512.4 339L516 335.4M516 335.4L521.1 340.9"/><path class="e c0" d="M512.4 339L517.5 344.3M517.5 344.3L521.1 340.9"/><path class="c0" d="M436.8 370.6l3.6-4l5.2 6.7l-3.6 1.7z"/><path class="c0" d="M533.4 366.5l3.6 0.6l5.2 9.9l-3.6-6.1z"/><path class="c0" d="M457.9 362.8l3.6-4.8l5.2 1.9l-3.6 3z"/><path class="c0" d="M479 356.7l3.6 1.7l5.1 6.7l-3.6-0.9z"/><path class="c0" d="M500.1 364.7l3.6-10.5l5.1-1l-3.6 14.3z"/><path class="c0" d="M521.1 340.9l3.6 8.3l5.1 8.9l-3.5-5.7z"/><path class="c0" d="M445.6 373.3l3.6-3.9l5.1 0.4l-3.6 5.1z"/><path class="c0" d="M466.7 359.9l3.6-0.2l5.1 1.3l-3.6 3z"/><path class="c0" d="M487.7 365.1l3.6 2.5l5.2-1.3l-3.6 4.3z"/><path class="c0" d="M508.8 353.2l3.6-14.2l5.1 5.3l-3.6 12.9z"/><path class="c0" d="M433.2 377.2l3.6-6.6l5.2 4.4l-3.6 3.9z"/><path class="c0" d="M529.8 358.1l3.6 8.4l5.2 4.4l-3.6-3.1z"/><path class="c0" d="M454.3 369.8l3.6-7l5.2 0.1l-3.6 4.9z"/><path class="c0" d="M475.4 361l3.6-4.3l5.1 7.5l-3.5 3.9z"/><path class="c0" d="M496.5 366.3l3.6-1.6l5.1 2.8l-3.6-0.7z"/><path class="c0" d="M517.5 344.3l3.6-3.4l5.2 11.5l-3.6 2.8z"/><path class="c0" d="M442 375l3.6-1.7l5.1 1.6l-3.6 4.6z"/><path class="c0" d="M538.6 370.9l3.6 6.1l5.1 1.7l-3.6 1z"/><path class="c0" d="M463.1 362.9l3.6-3l5.1 4.1l-3.6 0.1z"/><path class="c0" d="M484.1 364.2l3.6 0.9l5.2 5.5l-3.6-1.8z"/><path class="c0" d="M505.2 367.5l3.6-14.3l5.1 4l-3.5 13z"/><path class="c0" d="M526.3 352.4l3.5 5.7l5.2 9.7l-3.6-2.9z"/><path class="c0" d="M450.7 374.9l3.6-5.1l5.2-2l-3.6 6z"/><path class="c0" d="M471.8 364l3.6-3l5.2 7.1l-3.6-4.7z"/><path class="c0" d="M492.9 370.6l3.6-4.3l5.1 0.5l-3.6 4.6z"/><path class="c0" d="M513.9 357.2l3.6-12.9l5.2 10.9l-3.6 9.6z"/><path class="c0" d="M438.4 378.9l3.6-3.9l5.1 4.5l-3.6 1z"/><path class="c0" d="M535 367.8l3.6 3.1l5.1 8.8l-3.6-8.6z"/><path class="c0" d="M459.5 367.8l3.6-4.9l5.1 1.2l-3.6 3.7z"/><path class="c0" d="M480.6 368.1l3.5-3.9l5.2 4.6l-3.6-1.5z"/><path class="c0" d="M501.6 366.8l3.6 0.7l5.2 2.7l-3.6-0.5z"/><path class="c0" d="M522.7 355.2l3.6-2.8l5.1 12.5l-3.6 2.1z"/><path class="c0" d="M447.1 379.5l3.6-4.6l5.2-1.1l-3.6 7.3z"/><path class="c0" d="M468.2 364.1l3.6-0.1l5.2-0.6l-3.6 2.3z"/><path class="c0" d="M489.3 368.8l3.6 1.8l5.1 0.8l-3.6-3.3z"/><path class="c0" d="M510.4 370.2l3.5-13l5.2 7.6l-3.6 8z"/><path class="c0" d="M531.4 364.9l3.6 2.9l5.1 3.3l-3.6 1.8z"/><path class="c0" d="M455.9 373.8l3.6-6l5.1 0l-3.6-0.4z"/><path class="c0" d="M477 363.4l3.6 4.7l5.1-0.8l-3.6-4z"/><path class="c0" d="M498 371.4l3.6-4.6l5.2 2.9l-3.6 4z"/><path class="c0" d="M519.1 364.8l3.6-9.6l5.1 11.8l-3.6 5.6z"/><path class="c0" d="M540.1 371.1l3.6 8.6l5.1 1.7l-3.5 1z"/><path class="c0" d="M464.6 367.8l3.6-3.7l5.2 1.6l-3.6 3.3z"/><path class="c0" d="M485.7 367.3l3.6 1.5l5.1-0.7l-3.6-2z"/><path class="c0" d="M506.8 369.7l3.6 0.5l5.1 2.6l-3.6 1.6z"/><path class="c0" d="M527.8 367l3.6-2.1l5.1 8l-3.5 3.3z"/><path class="c0" d="M452.3 381.1l3.6-7.3l5.1-6.4l-3.6 15.4z"/><path class="c0" d="M473.4 365.7l3.6-2.3l5.1-0.1l-3.6 2.4z"/><path class="c0" d="M494.4 368.1l3.6 3.3l5.2 2.3l-3.6-3.7z"/><path class="c0" d="M515.5 372.8l3.6-8l5.1 7.8l-3.6 1.5z"/><path class="c0" d="M536.5 372.9l3.6-1.8l5.2 11.3l-3.6-4.9z"/><path class="c0" d="M461 367.4l3.6 0.4l5.2 1.2l-3.6-7.5z"/><path class="c0" d="M482.1 363.3l3.6 4l5.1-1.2l-3.5 2.5z"/><path class="c0" d="M503.2 373.7l3.6-4l5.1 4.7l-3.6-0.4z"/><path class="c0" d="M524.2 372.6l3.6-5.6l5.2 9.2l-3.6-3.1z"/><path class="c0" d="M469.8 369l3.6-3.3l5.1 0l-3.6 4.7z"/><path class="c0" d="M490.8 366.1l3.6 2l5.2 1.9l-3.6-2z"/><path class="c0" d="M511.9 374.4l3.6-1.6l5.1 1.3l-3.6 3.5z"/><path class="c0" d="M533 376.2l3.5-3.3l5.2 4.6l-3.6 0.8z"/><path class="c0" d="M457.4 382.8l3.6-15.4l5.2-5.9l-3.6 23z"/><path class="c0" d="M478.5 365.7l3.6-2.4l5.2 5.3l-3.6 1.7z"/><path class="c0" d="M499.6 370l3.6 3.7l5.1 0.3l-3.6 0.3z"/><path class="c0" d="M520.6 374.1l3.6-1.5l5.2 0.5l-3.6-0.2z"/><path class="c0" d="M541.7 377.5l3.6 4.9l5.1 1.7l-3.6 1.1z"/><path class="c0" d="M466.2 361.5l3.6 7.5l5.1 1.4l-3.6-7.7z"/><path class="c0" d="M487.3 368.6l3.5-2.5l5.2 1.9l-3.6 6.4z"/><path class="c0" d="M508.3 374l3.6 0.4l5.1 3.2l-3.5 0.3z"/><path class="c0" d="M529.4 373.1l3.6 3.1l5.1 2.1l-3.6-3.3z"/><path class="c0" d="M474.9 370.4l3.6-4.7l5.2 4.6l-3.6 6.1z"/><path class="c0" d="M496 368l3.6 2l5.1 4.3l-3.6-1.3z"/><path class="c0" d="M517 377.6l3.6-3.5l5.2-1.2l-3.6 2.3z"/><path class="c0" d="M538.1 378.3l3.6-0.8l5.1 7.7l-3.6-3.6z"/><path class="c0" d="M462.6 384.5l3.6-23l5.1 1.2l-3.6 23.4z"/><path class="c0" d="M483.7 370.3l3.6-1.7l5.1 5.8l-3.6 0.2z"/><path class="c0" d="M504.7 374.3l3.6-0.3l5.2 3.9l-3.6 0.8z"/><path class="c0" d="M525.8 372.9l3.6 0.2l5.1 1.9l-3.6-0.2z"/><path class="c0" d="M471.3 362.7l3.6 7.7l5.2 6l-3.6-4.9z"/><path class="c0" d="M492.4 374.4l3.6-6.4l5.1 5l-3.6 5.3z"/><path class="c0" d="M513.5 377.9l3.5-0.3l5.2-2.4l-3.6 2.2z"/><path class="c0" d="M534.5 375l3.6 3.3l5.1 3.3l-3.6-2.1z"/><path class="c0" d="M480.1 376.4l3.6-6.1l5.1 4.3l-3.6-1.5z"/><path class="c0" d="M501.1 373l3.6 1.3l5.2 4.4l-3.6 0.5z"/><path class="c0" d="M522.2 375.2l3.6-2.3l5.1 1.9l-3.6-2.5z"/><path class="c0" d="M543.2 381.6l3.6 3.6l5.2 1.6l-3.6 1.1z"/><path class="c0" d="M467.7 386.1l3.6-23.4l5.2 8.8l-3.6 16.3z"/><path class="c0" d="M488.8 374.6l3.6-0.2l5.1 3.9l-3.5-3.6z"/><path class="c0" d="M509.9 378.7l3.6-0.8l5.1-0.5l-3.6 4.6z"/><path class="c0" d="M530.9 374.8l3.6 0.2l5.1 4.5l-3.5-3.1z"/><path class="c0" d="M476.5 371.5l3.6 4.9l5.1-3.3l-3.6 15.3z"/><path class="c0" d="M497.5 378.3l3.6-5.3l5.2 6.2l-3.6 2.5z"/><path class="c0" d="M518.6 377.4l3.6-2.2l5.1-2.9l-3.6 2.8z"/><path class="c0" d="M539.6 379.5l3.6 2.1l5.2 6.3l-3.6-3.5z"/><path class="c0" d="M485.2 373.1l3.6 1.5l5.2 0.1l-3.6-1.8z"/><path class="c0" d="M506.3 379.2l3.6-0.5l5.1 3.3l-3.6-1.4z"/><path class="c0" d="M527.3 372.3l3.6 2.5l5.2 1.6l-3.6-4.5z"/><path class="c0" d="M472.9 387.8l3.6-16.3l5.1 16.9l-3.6 1.1z"/><path class="c0" d="M494 374.7l3.5 3.6l5.2 3.4l-3.6-1.9z"/><path class="c0" d="M515 382l3.6-4.6l5.1-2.3l-3.5 5.6z"/><path class="c0" d="M536.1 376.4l3.5 3.1l5.2 4.9l-3.6-5.3z"/><path class="c0" d="M481.6 388.4l3.6-15.3l5.2-0.2l-3.6 17.2z"/><path class="c0" d="M502.7 381.7l3.6-2.5l5.1 1.4l-3.6 0.5z"/><path class="c0" d="M523.7 375.1l3.6-2.8l5.2-0.4l-3.6 3z"/><path class="c0" d="M544.8 384.4l3.6 3.5l5.1 1.6l-3.6 1.1z"/><path class="c0" d="M490.4 372.9l3.6 1.8l5.1 5.1l-3.6-1z"/><path class="c0" d="M511.4 380.6l3.6 1.4l5.2-1.3l-3.6-2.8z"/><path class="c0" d="M532.5 371.9l3.6 4.5l5.1 2.7l-3.6-4.1z"/><path class="c0" d="M499.1 379.8l3.6 1.9l5.1-0.6l-3.5 4.7z"/><path class="c0" d="M520.2 380.7l3.5-5.6l5.2-0.2l-3.6 7.2z"/><path class="c0" d="M541.2 379.1l3.6 5.3l5.1 6.2l-3.6-7z"/><path class="c0" d="M486.8 390.1l3.6-17.2l5.1 5.9l-3.6 13z"/><path class="c0" d="M507.8 381.1l3.6-0.5l5.2-2.7l-3.6 4.1z"/><path class="c0" d="M528.9 374.9l3.6-3l5.1 3.1l-3.6 2.9z"/><path class="c0" d="M495.5 378.8l3.6 1l5.2 6l-3.6 0.9z"/><path class="c0" d="M516.6 377.9l3.6 2.8l5.1 1.4l-3.6-2.8z"/><path class="c0" d="M537.6 375l3.6 4.1l5.1 4.5l-3.5-2.7z"/><path class="c0" d="M504.3 385.8l3.5-4.7l5.2 0.9l-3.6 5z"/><path class="c0" d="M525.3 382.1l3.6-7.2l5.1 3l-3.6 7.5z"/><path class="c0" d="M546.3 383.6l3.6 7l5.2 1.7l-3.6 1z"/><path class="c0" d="M491.9 391.8l3.6-13l5.2 7.9l-3.6 6.7z"/><path class="c0" d="M513 382l3.6-4.1l5.1 1.4l-3.6 3.6z"/><path class="c0" d="M534 377.9l3.6-2.9l5.2 5.9l-3.6 2.4z"/><path class="c0" d="M500.7 386.7l3.6-0.9l5.1 1.2l-3.6 7z"/><path class="c0" d="M521.7 379.3l3.6 2.8l5.1 3.3l-3.5-1.8z"/><path class="c0" d="M542.8 380.9l3.5 2.7l5.2 9.7l-3.6-5.9z"/><path class="c0" d="M509.4 387l3.6-5l5.1 0.9l-3.6 6.5z"/><path class="c0" d="M530.4 385.4l3.6-7.5l5.2 5.4l-3.6 3.1z"/><path class="c0" d="M497.1 393.4l3.6-6.7l5.1 7.3l-3.6 1.1z"/><path class="c0" d="M518.1 382.9l3.6-3.6l5.2 4.3l-3.6 2.9z"/><path class="c0" d="M539.2 383.3l3.6-2.4l5.1 6.5l-3.6-0.2z"/><path class="c0" d="M505.8 394l3.6-7l5.1 2.4l-3.5 6.3z"/><path class="c0" d="M526.9 383.6l3.5 1.8l5.2 1l-3.6-1.2z"/><path class="c0" d="M547.9 387.4l3.6 5.9l5.1 1.7l-3.6 1z"/><path class="c0" d="M514.5 389.4l3.6-6.5l5.2 3.6l-3.6 5.5z"/><path class="c0" d="M535.6 386.4l3.6-3.1l5.1 3.9l-3.6-0.3z"/><path class="c0" d="M523.3 386.5l3.6-2.9l5.1 1.6l-3.6 3.1z"/><path class="c0" d="M544.3 387.2l3.6 0.2l5.1 8.6l-3.5-7.8z"/><path class="c0" d="M511 395.7l3.5-6.3l5.2 2.6l-3.6 5.4z"/><path class="c0" d="M532 385.2l3.6 1.2l5.1 0.5l-3.5 0z"/><path class="c0" d="M519.7 392l3.6-5.5l5.1 1.8l-3.6 5.3z"/><path class="c0" d="M271.5 395.7l3.6-1l5.2 1.7l-3.6-13.3z"/><path class="c0" d="M540.7 386.9l3.6 0.3l5.2 1l-3.6 1.2z"/><path class="c0" d="M528.4 388.3l3.6-3.1l5.2 1.7l-3.6 3.2z"/><path class="c0" d="M549.5 388.2l3.5 7.8l5.2 1.7l-3.6 1.1z"/><path class="c0" d="M516.1 397.4l3.6-5.4l5.1 1.6l-3.5 5.4z"/><path class="c0" d="M267.9 396.8l3.6-1.1l5.2-12.6l-3.6 0.9z"/><path class="c0" d="M537.2 386.9l3.5 0l5.2 2.5l-3.6 2.4z"/><path class="c0" d="M524.8 393.6l3.6-5.3l5.2 1.8l-3.6 5.3z"/><path class="c0" d="M276.7 383.1l3.6 13.3l5.2 1.6l-3.7-19z"/><path class="c0" d="M545.9 389.4l3.6-1.2l5.1 10.6l-3.6-7.8z"/><path class="c0" d="M264.3 397.8l3.6-1l5.2-12.8l-3.6 0.8z"/><path class="c0" d="M533.6 390.1l3.6-3.2l5.1 4.9l-3.6 2.7z"/><path class="c0" d="M521.3 399l3.5-5.4l5.2 1.8l-3.6 5.3z"/><path class="c0" d="M273.1 384l3.6-0.9l5.1-4.1l-3.6 0.8z"/><path class="c0" d="M542.3 391.8l3.6-2.4l5.1 1.6l-3.6 2.4z"/><path class="c0" d="M260.7 398.9l3.6-1.1l5.2-13l-3.7-9.5z"/><path class="c0" d="M530 395.4l3.6-5.3l5.1 4.4l-3.6 6.8z"/><path class="c0" d="M281.8 379l3.7 19l5.1 1.7l-3.6 1.1z"/><path class="c0" d="M551 391l3.6 7.8l5.2 1.6l-3.6 1.1z"/><path class="c0" d="M269.5 384.8l3.6-0.8l5.1-4.2l-3.6 6.9z"/><path class="c0" d="M538.7 394.5l3.6-2.7l5.1 1.6l-3.5 2z"/><path class="c0" d="M257.1 399.9l3.6-1l5.1-23.6l-3.6 0.8z"/><path class="c0" d="M526.4 400.7l3.6-5.3l5.1 5.9l-3.5 1.1z"/><path class="c0" d="M278.2 379.8l3.6-0.8l5.2 21.8l-3.6-17.2z"/><path class="c0" d="M547.4 393.4l3.6-2.4l5.2 10.5l-3.6-8.2z"/><path class="c0" d="M265.8 375.3l3.7 9.5l5.1 1.9l-3.6-6.4z"/><path class="c0" d="M535.1 401.3l3.6-6.8l5.2 0.9l-3.6 7.6z"/><path class="c0" d="M253.5 401l3.6-1.1l5.1-23.8l-3.6 11.5z"/><path class="c0" d="M274.6 386.7l3.6-6.9l5.2 3.8l-3.6 6.4z"/><path class="c0" d="M543.9 395.4l3.5-2l5.2-0.1l-3.6 4.3z"/><path class="c0" d="M262.2 376.1l3.6-0.8l5.2 5l-3.6 0.9z"/><path class="c0" d="M283.4 383.6l3.6 17.2l5.2 1.6l-3.6-21.5z"/><path class="c0" d="M552.6 393.3l3.6 8.2l5.1 1.6l-3.6-6.7z"/><path class="c0" d="M249.8 402l3.7-1l5.1-13.4l-3.6-1.4z"/><path class="c0" d="M271 380.3l3.6 6.4l5.2 3.3l-3.6-1.1z"/><path class="c0" d="M540.3 403l3.6-7.6l5.1 2.2l-3.6 7z"/><path class="c0" d="M258.6 387.6l3.6-11.5l5.2 5.1l-3.6 8.5z"/><path class="c0" d="M279.8 390l3.6-6.4l5.2-2.7l-3.6 7.7z"/><path class="c0" d="M549 397.6l3.6-4.3l5.1 3.1l-3.5 3.8z"/><path class="c0" d="M246.2 403.1l3.6-1.1l5.2-15.8l-3.6-4.2z"/><path class="c0" d="M267.4 381.2l3.6-0.9l5.2 8.6l-3.6-1.9z"/><path class="c0" d="M288.6 380.9l3.6 21.5l5.2 1.7l-3.6-20.5z"/><path class="c0" d="M557.7 396.4l3.6 6.7l5.2 1.7l-3.6 1.1z"/><path class="c0" d="M255 386.2l3.6 1.4l5.2 2.1l-3.6 1.3z"/><path class="c0" d="M276.2 388.9l3.6 1.1l5.2-1.4l-3.6 3.2z"/><path class="c0" d="M545.4 404.6l3.6-7l5.2 2.6l-3.6 6.1z"/><path class="c0" d="M242.6 404.1l3.6-1l5.2-21.1l-3.6-0.7z"/><path class="c0" d="M263.8 389.7l3.6-8.5l5.2 5.8l-3.6 4z"/><path class="c0" d="M285 388.6l3.6-7.7l5.2 2.7l-3.6 3.2z"/><path class="c0" d="M554.2 400.2l3.5-3.8l5.2 9.5l-3.6-2.8z"/><path class="c0" d="M251.4 382l3.6 4.2l5.2 4.8l-3.6-3.5z"/><path class="c0" d="M272.6 387l3.6 1.9l5.2 2.9l-3.6 0.4z"/><path class="c0" d="M293.8 383.6l3.6 20.5l5.2 1.7l-3.6-17.6z"/><path class="c0" d="M239 405.2l3.6-1.1l5.2-22.8l-3.6-5.6z"/><path class="c0" d="M260.2 391l3.6-1.3l5.2 1.3l-3.6 7.4z"/><path class="c0" d="M281.4 391.8l3.6-3.2l5.2-1.8l-3.6 1.9z"/><path class="c0" d="M550.6 406.3l3.6-6.1l5.1 2.9l-3.6 4.9z"/><path class="c0" d="M247.8 381.3l3.6 0.7l5.2 5.5l-3.6-3.4z"/><path class="c0" d="M269 391l3.6-4l5.2 5.2l-3.6 3.5z"/><path class="c0" d="M290.2 386.8l3.6-3.2l5.2 4.6l-3.6 2.6z"/><path class="c0" d="M559.3 403.1l3.6 2.8l5.1 1.6l-3.5-2.5z"/><path class="c0" d="M235.4 406.2l3.6-1l5.2-29.5l-3.6 14.3z"/><path class="c0" d="M256.6 387.5l3.6 3.5l5.2 7.4l-3.6-4.1z"/><path class="c0" d="M277.8 392.2l3.6-0.4l5.2-3.1l-3.6 4.3z"/><path class="c0" d="M299 388.2l3.6 17.6l5.2 1.7l-3.6-13.1z"/><path class="c0" d="M244.2 375.7l3.6 5.6l5.2 2.8l-3.6 0.4z"/><path class="c0" d="M265.4 398.4l3.6-7.4l5.2 4.7l-3.6 6.1z"/><path class="c0" d="M286.6 388.7l3.6-1.9l5.2 4l-3.6-2.3z"/><path class="c0" d="M555.7 408l3.6-4.9l5.2 1.9l-3.6 4.6z"/><path class="c0" d="M231.8 407.3l3.6-1.1l5.2-16.2l-3.6 7.7z"/><path class="c0" d="M253 384.1l3.6 3.4l5.2 6.8l-3.6-4.8z"/><path class="c0" d="M274.2 395.7l3.6-3.5l5.2 0.8l-3.6 7.8z"/><path class="c0" d="M295.4 390.8l3.6-2.6l5.2 6.2l-3.6-0.2z"/><path class="c0" d="M564.5 405l3.5 2.5l5.2 1.7l-3.6-3.8z"/><path class="c0" d="M240.6 390l3.6-14.3l5.2 8.8l-3.6 11.2z"/><path class="c0" d="M261.8 394.3l3.6 4.1l5.2 3.4l-3.6 0.1z"/><path class="c0" d="M283 393l3.6-4.3l5.2-0.2l-3.6 4.7z"/><path class="c0" d="M304.2 394.4l3.6 13.1l5.1 1.6l-3.6-5.3z"/><path class="c0" d="M228.2 408.3l3.6-1l5.2-9.6l-3.6-10.2z"/><path class="c0" d="M249.4 384.5l3.6-0.4l5.2 5.4l-3.6 2.7z"/><path class="c0" d="M270.6 401.8l3.6-6.1l5.2 5.1l-3.6 0.8z"/><path class="c0" d="M291.8 388.5l3.6 2.3l5.2 3.4l-3.6-2z"/><path class="c0" d="M560.9 409.6l3.6-4.6l5.1 0.4l-3.6 5.9z"/><path class="c0" d="M237 397.7l3.6-7.7l5.2 5.7l-3.6 2.6z"/><path class="c0" d="M258.2 389.5l3.6 4.8l5.2 7.6l-3.6-6.7z"/><path class="c0" d="M279.4 400.8l3.6-7.8l5.2 0.2l-3.6 5.7z"/><path class="c0" d="M300.6 394.2l3.6 0.2l5.1 9.4l-3.6-3.8z"/><path class="c0" d="M224.6 409.4l3.6-1.1l5.2-20.8l-3.6-4.6z"/><path class="c0" d="M569.6 405.4l3.6 3.8l5.1 1.7l-3.5-4.7z"/><path class="c0" d="M245.8 395.7l3.6-11.2l5.2 7.7l-3.6 8.5z"/><path class="c0" d="M267 401.9l3.6-0.1l5.2-0.2l-3.6-3.5z"/><path class="c0" d="M288.2 393.2l3.6-4.7l5.2 3.7l-3.6 4.4z"/><path class="c0" d="M309.3 403.8l3.6 5.3l5.2 1.7l-3.6-2.8z"/><path class="c0" d="M233.4 387.5l3.6 10.2l5.2 0.6l-3.6-11.4z"/><path class="c0" d="M254.6 392.2l3.6-2.7l5.2 5.7l-3.6-2.4z"/><path class="c0" d="M275.8 401.6l3.6-0.8l5.2-1.9l-3.6 2.1z"/><path class="c0" d="M297 392.2l3.6 2l5.1 5.8l-3.6-1.2z"/><path class="c0" d="M566 411.3l3.6-5.9l5.2 0.8l-3.6 6.8z"/><path class="c0" d="M221 410.4l3.6-1l5.2-26.5l-3.6-1.7z"/><path class="c0" d="M242.2 398.3l3.6-2.6l5.2 5l-3.6 2.6z"/><path class="c0" d="M263.4 395.2l3.6 6.7l5.2-3.8l-3.6-0.1z"/><path class="c0" d="M284.6 398.9l3.6-5.7l5.2 3.4l-3.6 0.5z"/><path class="c0" d="M305.7 400l3.6 3.8l5.2 4.2l-3.6-1.8z"/><path class="c0" d="M229.8 382.9l3.6 4.6l5.2-0.6l-3.6-5.2z"/><path class="c0" d="M574.8 406.2l3.5 4.7l5.2 1.6l-3.6-4.5z"/><path class="c0" d="M251 400.7l3.6-8.5l5.2 0.6l-3.6-6.7z"/><path class="c0" d="M272.2 398.1l3.6 3.5l5.2-0.6l-3.6-4.7z"/><path class="c0" d="M293.4 396.6l3.6-4.4l5.1 6.6l-3.6 0.7z"/><path class="c0" d="M217.4 411.4l3.6-1l5.2-29.2l-3.6 1z"/><path class="c0" d="M314.5 408l3.6 2.8l5.2 1.7l-3.6-0.8z"/><path class="c0" d="M238.6 386.9l3.6 11.4l5.2 5l-3.6-8z"/><path class="c0" d="M259.8 392.8l3.6 2.4l5.2 2.8l-3.6-19.8z"/><path class="c0" d="M281 401l3.6-2.1l5.2-1.8l-3.6 4.6z"/><path class="c0" d="M302.1 398.8l3.6 1.2l5.2 6.2l-3.6-0.3z"/><path class="c0" d="M571.2 413l3.6-6.8l5.1 1.8l-3.6 0.6z"/><path class="c0" d="M226.2 381.2l3.6 1.7l5.2-1.2l-3.6 0.8z"/><path class="c0" d="M247.4 403.3l3.6-2.6l5.2-14.6l-3.6 3.7z"/><path class="c0" d="M268.6 398l3.6 0.1l5.2-1.8l-3.6-0.6z"/><path class="c0" d="M289.8 397.1l3.6-0.5l5.1 2.9l-3.6-1.3z"/><path class="c0" d="M213.8 412.5l3.6-1.1l5.2-29.2l-3.6 2z"/><path class="c0" d="M310.9 406.2l3.6 1.8l5.2 3.7l-3.6-0.4z"/><path class="c0" d="M235 381.7l3.6 5.2l5.2 8.4l-3.6-3.5z"/><path class="c0" d="M579.9 408l3.6 4.5l5.1 1.7l-3.6-4.8z"/><path class="f" d="M256.2 386.1l3.6 6.7l5.2-14.6l-3.6-16z"/><path class="e c0" d="M256.2 386.1L259.8 392.8M259.8 392.8L265 378.2"/><path class="e c2" d="M256.2 386.1L261.4 362.2M261.4 362.2L265 378.2"/><path class="c0" d="M277.4 396.3l3.6 4.7l5.2 0.7l-3.6-0.2z"/><path class="c0" d="M298.5 399.5l3.6-0.7l5.2 7.1l-3.6-2.4z"/><path class="c0" d="M222.6 382.2l3.6-1l5.2 1.3l-3.6 4.4z"/><path class="c0" d="M567.6 414l3.6-1l5.1-4.4l-3.6 7.1z"/><path class="c0" d="M319.7 411.7l3.6 0.8l5.2 1.7l-3.6-1z"/><path class="c0" d="M243.8 395.3l3.6 8l5.2-13.5l-3.6 12z"/><path class="f" d="M265 378.2l3.6 19.8l5.2-2.3l-3.6-25.8z"/><path class="e c0" d="M265 378.2L268.6 398M268.6 398L273.8 395.7"/><path class="e c1" d="M265 378.2L270.2 369.9M270.2 369.9L273.8 395.7"/><path class="c0" d="M286.2 401.7l3.6-4.6l5.1 1.1l-3.6 4.7z"/><path class="c0" d="M210.2 413.5l3.6-1l5.2-28.3l-3.6 7.2z"/><path class="c0" d="M307.3 405.9l3.6 0.3l5.2 5.1l-3.6 0z"/><path class="c0" d="M231.4 382.5l3.6-0.8l5.2 10.1l-3.6-12.1z"/><path class="c0" d="M576.3 408.6l3.6-0.6l5.1 1.4l-3.5 1.6z"/><path class="f" d="M252.6 389.8l3.6-3.7l5.2-23.9l-3.6 6.3z"/><path class="e c0" d="M252.6 389.8L256.2 386.1"/><path class="e c1" d="M252.6 389.8L257.8 368.5"/><path class="e c2" d="M256.2 386.1L261.4 362.2M257.8 368.5L261.4 362.2"/><path class="c0" d="M273.8 395.7l3.6 0.6l5.2 5.2l-3.6-1.2z"/><path class="c0" d="M294.9 398.2l3.6 1.3l5.2 4l-3.6-0.9z"/><path class="c0" d="M219 384.2l3.6-2l5.2 4.7l-3.6-1.1z"/><path class="c0" d="M316.1 411.3l3.6 0.4l5.2 1.5l-3.6-2.1z"/><path class="c0" d="M240.2 391.8l3.6 3.5l5.2 6.5l-3.6-11.5z"/><path class="c0" d="M585 409.4l3.6 4.8l5.2 1.7l-3.6 1z"/><path class="f" d="M261.4 362.2l3.6 16l5.2-8.3l-3.6-20.8z"/><path class="e c2" d="M261.4 362.2L265 378.2"/><path class="e c3" d="M261.4 362.2L266.6 349.1M266.6 349.1L270.2 369.9"/><path class="e c1" d="M265 378.2L270.2 369.9"/><path class="c0" d="M282.6 401.5l3.6 0.2l5.1 1.2l-3.6 2.6z"/><path class="c0" d="M206.6 414.6l3.6-1.1l5.2-22.1l-3.6-2z"/><path class="c0" d="M303.7 403.5l3.6 2.4l5.2 5.4l-3.6-2.3z"/><path class="f" d="M227.8 386.9l3.6-4.4l5.2-2.8l-3.6-19.2z"/><path class="e c0" d="M227.8 386.9L231.4 382.5M231.4 382.5L236.6 379.7"/><path class="e c2" d="M227.8 386.9L233 360.5M233 360.5L236.6 379.7"/><path class="c0" d="M572.7 415.7l3.6-7.1l5.2 2.4l-3.6 6.4z"/><path class="c0" d="M324.9 413.2l3.6 1l5.2 1.7l-3.6-2.9z"/><path class="f" d="M249 401.8l3.6-12l5.2-21.3l-3.6 22.4z"/><path class="e c0" d="M254.2 390.9L249 401.8L252.6 389.8"/><path class="e c1" d="M252.6 389.8L257.8 368.5M254.2 390.9L257.8 368.5"/><path class="f" d="M270.2 369.9l3.6 25.8l5.2 4.6l-3.6-21.5z"/><path class="e c1" d="M275.4 378.8L270.2 369.9L273.8 395.7M275.4 378.8L279 400.3"/><path class="e c0" d="M273.8 395.7L279 400.3"/><path class="c0" d="M291.3 402.9l3.6-4.7l5.2 4.4l-3.6 3.6z"/><path class="c0" d="M215.4 391.4l3.6-7.2l5.2 1.6l-3.6 7.5z"/><path class="c0" d="M312.5 411.3l3.6 0l5.2-0.2l-3.6 1.6z"/><path class="c0" d="M581.5 411l3.5-1.6l5.2 7.5l-3.6-4.3z"/><path class="f" d="M236.6 379.7l3.6 12.1l5.2-1.5l-3.6-20.8z"/><path class="e c0" d="M236.6 379.7L240.2 391.8M240.2 391.8L245.4 390.3"/><path class="e c1" d="M236.6 379.7L241.8 369.5M241.8 369.5L245.4 390.3"/><path class="f" d="M257.8 368.5l3.6-6.3l5.2-13.1l-3.6 7.8z"/><path class="e c2" d="M263 356.9L257.8 368.5L261.4 362.2"/><path class="e c3" d="M261.4 362.2L266.6 349.1M263 356.9L266.6 349.1"/><path class="c0" d="M279 400.3l3.6 1.2l5.1 4l-3.6 2.3z"/><path class="c0" d="M203 415.6l3.6-1l5.2-25.2l-3.6-4.5z"/><path class="c0" d="M300.1 402.6l3.6 0.9l5.2 5.5l-3.6-0.8z"/><path class="f" d="M224.2 385.8l3.6 1.1l5.2-26.4l-3.6 14.3z"/><path class="e c0" d="M224.2 385.8L227.8 386.9"/><path class="e c1" d="M224.2 385.8L229.4 374.8"/><path class="e c2" d="M227.8 386.9L233 360.5M229.4 374.8L233 360.5"/><path class="c0" d="M321.3 411.1l3.6 2.1l5.2-0.2l-3.6-0.8z"/><path class="c0" d="M245.4 390.3l3.6 11.5l5.2-10.9l-3.6-9.1z"/><path class="f" d="M266.6 349.1l3.6 20.8l5.2 8.9l-3.6-17.4z"/><path class="e c3" d="M271.8 361.4L266.6 349.1L270.2 369.9"/><path class="e c1" d="M270.2 369.9L275.4 378.8"/><path class="e c2" d="M271.8 361.4L275.4 378.8"/><path class="c0" d="M287.7 405.5l3.6-2.6l5.2 3.3l-3.6 0.6z"/><path class="c0" d="M211.8 389.4l3.6 2l5.2 1.9l-3.6-2z"/><path class="c0" d="M308.9 409l3.6 2.3l5.2 1.4l-3.6 1.2z"/><path class="f" d="M233 360.5l3.6 19.2l5.2-10.2l-3.6-14.2z"/><path class="e c2" d="M233 360.5L236.6 379.7"/><path class="e c3" d="M233 360.5L238.2 355.3M238.2 355.3L241.8 369.5"/><path class="e c1" d="M236.6 379.7L241.8 369.5"/><path class="c0" d="M577.9 417.4l3.6-6.4l5.1 1.6l-3.6 6.4z"/><path class="c0" d="M330.1 413l3.6 2.9l5.1 1.6l-3.6-4.7z"/><path class="f" d="M254.2 390.9l3.6-22.4l5.2-11.6l-3.6 28.5z"/><path class="e c1" d="M254.2 390.9L257.8 368.5"/><path class="e c0" d="M254.2 390.9L259.4 385.4"/><path class="e c2" d="M257.8 368.5L263 356.9M259.4 385.4L263 356.9"/><path class="f" d="M275.4 378.8l3.6 21.5l5.1 7.5l-3.5-10.3z"/><path class="e c1" d="M280.6 397.5L275.4 378.8L279 400.3"/><path class="e c0" d="M279 400.3L284.1 407.8M280.6 397.5L284.1 407.8"/><path class="c0" d="M199.4 416.7l3.6-1.1l5.2-30.7l-3.6 3.9z"/><path class="c0" d="M296.5 406.2l3.6-3.6l5.2 5.6l-3.6 1.3z"/><path class="f" d="M220.6 393.3l3.6-7.5l5.2-11l-3.6 11z"/><path class="e c0" d="M225.8 385.8L220.6 393.3L224.2 385.8"/><path class="e c1" d="M224.2 385.8L229.4 374.8M225.8 385.8L229.4 374.8"/><path class="c0" d="M317.7 412.7l3.6-1.6l5.2 1.1l-3.6-2.6z"/><path class="c0" d="M586.6 412.6l3.6 4.3l5.1 1.7l-3.5-3.6z"/><path class="f" d="M241.8 369.5l3.6 20.8l5.2-8.5l-3.6-29.2z"/><path class="e c1" d="M241.8 369.5L245.4 390.3"/><path class="e c3" d="M241.8 369.5L247 352.6M247 352.6L250.6 381.8"/><path class="e c0" d="M245.4 390.3L250.6 381.8"/><path class="f" d="M263 356.9l3.6-7.8l5.2 12.3l-3.6 6.7z"/><path class="e c3" d="M263 356.9L266.6 349.1M266.6 349.1L271.8 361.4"/><path class="e c2" d="M263 356.9L268.2 368.1M268.2 368.1L271.8 361.4"/><path class="c0" d="M284.1 407.8l3.6-2.3l5.2 1.3l-3.6 0.9z"/><path class="f" d="M208.2 384.9l3.6 4.5l5.2 1.9l-3.6-14.8z"/><path class="e c0" d="M208.2 384.9L211.8 389.4M211.8 389.4L217 391.3"/><path class="e c1" d="M208.2 384.9L213.4 376.5M213.4 376.5L217 391.3"/><path class="c0" d="M305.3 408.2l3.6 0.8l5.2 4.9l-3.6-0.8z"/><path class="f" d="M229.4 374.8l3.6-14.3l5.2-5.2l-3.6 16z"/><path class="e c2" d="M229.4 374.8L233 360.5"/><path class="e c1" d="M229.4 374.8L234.6 371.3"/><path class="e c3" d="M233 360.5L238.2 355.3M234.6 371.3L238.2 355.3"/><path class="c0" d="M326.5 412.2l3.6 0.8l5.1-0.2l-3.5 0.4z"/><path class="c0" d="M250.6 381.8l3.6 9.1l5.2-5.5l-3.6 4.7z"/><path class="f" d="M271.8 361.4l3.6 17.4l5.2 18.7l-3.6-9.2z"/><path class="e c2" d="M277 388.3L271.8 361.4L275.4 378.8"/><path class="e c1" d="M275.4 378.8L280.6 397.5"/><path class="e c0" d="M277 388.3L280.6 397.5"/><path class="f" d="M195.8 417.7l3.6-1l5.2-27.9l-3.6-9z"/><path class="e c0" d="M201 379.8L195.8 417.7L199.4 416.7M199.4 416.7L204.6 388.8"/><path class="e c1" d="M201 379.8L204.6 388.8"/><path class="c0" d="M292.9 406.8l3.6-0.6l5.2 3.3l-3.6-1.5z"/><path class="f" d="M217 391.3l3.6 2l5.2-7.5l-3.6-10.4z"/><path class="e c0" d="M217 391.3L220.6 393.3M220.6 393.3L225.8 385.8"/><path class="e c1" d="M217 391.3L222.2 375.4M222.2 375.4L225.8 385.8"/><path class="c0" d="M314.1 413.9l3.6-1.2l5.2-3.1l-3.6 1.8z"/><path class="c3" d="M238.2 355.3l3.6 14.2l5.2-16.9l-3.6-6.8z"/><path class="c0" d="M583 419l3.6-6.4l5.2 2.4l-3.6 5.7z"/><path class="c0" d="M335.2 412.8l3.6 4.7l5.2 1.7l-3.6-6z"/><path class="f" d="M259.4 385.4l3.6-28.5l5.2 11.2l-3.6 24.2z"/><path class="e c2" d="M259.4 385.4L263 356.9M263 356.9L268.2 368.1"/><path class="e c0" d="M259.4 385.4L264.6 392.3"/><path class="e c1" d="M264.6 392.3L268.2 368.1"/><path class="c0" d="M280.6 397.5l3.5 10.3l5.2-0.1l-3.6 1.9z"/><path class="f" d="M204.6 388.8l3.6-3.9l5.2-8.4l-3.6 11z"/><path class="e c0" d="M209.8 387.5L204.6 388.8L208.2 384.9"/><path class="e c1" d="M208.2 384.9L213.4 376.5M209.8 387.5L213.4 376.5"/><path class="c0" d="M301.7 409.5l3.6-1.3l5.2 4.9l-3.6-0.2z"/><path class="f" d="M225.8 385.8l3.6-11l5.2-3.5l-3.6-11.7z"/><path class="e c1" d="M225.8 385.8L229.4 374.8M229.4 374.8L234.6 371.3"/><path class="e c2" d="M225.8 385.8L231 359.6M231 359.6L234.6 371.3"/><path class="c0" d="M322.9 409.6l3.6 2.6l5.2 1l-3.6-3.1z"/><path class="c0" d="M591.8 415l3.5 3.6l5.2 1.6l-3.6-4.1z"/><path class="f" d="M247 352.6l3.6 29.2l5.2 8.3l-3.6-23.8z"/><path class="e c3" d="M252.2 366.3L247 352.6L250.6 381.8"/><path class="e c0" d="M250.6 381.8L255.8 390.1"/><path class="e c2" d="M252.2 366.3L255.8 390.1"/><path class="f" d="M268.2 368.1l3.6-6.7l5.2 26.9l-3.6 4.2z"/><path class="e c2" d="M268.2 368.1L271.8 361.4M271.8 361.4L277 388.3"/><path class="e c1" d="M268.2 368.1L273.4 392.5"/><path class="e c0" d="M273.4 392.5L277 388.3"/><path class="f" d="M192.2 418.8l3.6-1.1l5.2-37.9l-3.6 5.9z"/><path class="e c0" d="M197.4 385.7L192.2 418.8L195.8 417.7M195.8 417.7L201 379.8"/><path class="e c1" d="M197.4 385.7L201 379.8"/><path class="c0" d="M289.3 407.7l3.6-0.9l5.2 1.2l-3.6 0.2z"/><path class="f" d="M213.4 376.5l3.6 14.8l5.2-15.9l-3.6-35.6z"/><path class="e c1" d="M218.6 339.8L213.4 376.5L217 391.3M217 391.3L222.2 375.4"/><path class="e c4" d="M218.6 339.8L222.2 375.4"/><path class="c0" d="M310.5 413.1l3.6 0.8l5.2-2.5l-3.6 3.5z"/><path class="f" d="M234.6 371.3l3.6-16l5.2-9.5l-3.6 24.9z"/><path class="e c3" d="M234.6 371.3L238.2 355.3M238.2 355.3L243.4 345.8M239.8 370.7L243.4 345.8"/><path class="e c1" d="M234.6 371.3L239.8 370.7"/><path class="c0" d="M331.7 413.2l3.5-0.4l5.2 0.4l-3.6 1.7z"/><path class="c0" d="M255.8 390.1l3.6-4.7l5.2 6.9l-3.6 10.3z"/><path class="c0" d="M277 388.3l3.6 9.2l5.1 12.1l-3.6-0.2z"/><path class="f" d="M201 379.8l3.6 9l5.2-1.3l-3.6-3z"/><path class="e c1" d="M206.2 384.5L201 379.8L204.6 388.8"/><path class="e c0" d="M204.6 388.8L209.8 387.5M206.2 384.5L209.8 387.5"/><path class="c0" d="M298.1 408l3.6 1.5l5.2 3.4l-3.6-0.3z"/><path class="f" d="M222.2 375.4l3.6 10.4l5.2-26.2l-3.6-20.1z"/><path class="e c1" d="M222.2 375.4L225.8 385.8"/><path class="e c4" d="M222.2 375.4L227.4 339.5M227.4 339.5L231 359.6"/><path class="e c2" d="M225.8 385.8L231 359.6"/><path class="c0" d="M319.3 411.4l3.6-1.8l5.2 0.5l-3.6 1.9z"/><path class="f" d="M243.4 345.8l3.6 6.8l5.2 13.7l-3.6-5.3z"/><path class="e c3" d="M248.6 361L243.4 345.8L247 352.6M247 352.6L252.2 366.3"/><path class="e c2" d="M248.6 361L252.2 366.3"/><path class="c0" d="M588.2 420.7l3.6-5.7l5.1 1.1l-3.6 6.3z"/><path class="c0" d="M340.4 413.2l3.6 6l5.2 1.7l-3.6-8.3z"/><path class="f" d="M264.6 392.3l3.6-24.2l5.2 24.4l-3.6 12.3z"/><path class="e c1" d="M264.6 392.3L268.2 368.1M268.2 368.1L273.4 392.5"/><path class="e c0" d="M264.6 392.3L269.8 404.8M269.8 404.8L273.4 392.5"/><path class="c0" d="M188.5 419.8l3.7-1l5.2-33.1l-3.7-1.5z"/><path class="c0" d="M285.7 409.6l3.6-1.9l5.2 0.5l-3.6 2.5z"/><path class="f" d="M209.8 387.5l3.6-11l5.2-36.7l-3.6 27.8z"/><path class="e c1" d="M209.8 387.5L213.4 376.5M213.4 376.5L218.6 339.8"/><path class="e c2" d="M209.8 387.5L215 367.6"/><path class="e c4" d="M215 367.6L218.6 339.8"/><path class="c0" d="M306.9 412.9l3.6 0.2l5.2 1.8l-3.6-3.7z"/><path class="f" d="M231 359.6l3.6 11.7l5.2-0.6l-3.6 7.6z"/><path class="e c2" d="M236.2 378.3L231 359.6L234.6 371.3"/><path class="e c1" d="M234.6 371.3L239.8 370.7M236.2 378.3L239.8 370.7"/><path class="c0" d="M328.1 410.1l3.6 3.1l5.1 1.7l-3.6-0.1z"/><path class="c0" d="M596.9 416.1l3.6 4.1l5.1 1.7l-3.5 1.1z"/><path class="f" d="M252.2 366.3l3.6 23.8l5.2 12.5l-3.6-6.4z"/><path class="e c2" d="M257.4 396.2L252.2 366.3L255.8 390.1"/><path class="e c0" d="M255.8 390.1L261 402.6M257.4 396.2L261 402.6"/><path class="c0" d="M273.4 392.5l3.6-4.2l5.1 21.1l-3.6-0.3z"/><path class="c1" d="M197.4 385.7l3.6-5.9l5.2 4.7l-3.6-5.3z"/><path class="c0" d="M294.5 408.2l3.6-0.2l5.2 4.6l-3.6 0.4z"/><path class="c4" d="M218.6 339.8l3.6 35.6l5.2-35.9l-3.6 23z"/><path class="c0" d="M315.7 414.9l3.6-3.5l5.2 0.6l-3.6 4.3z"/><path class="f" d="M239.8 370.7l3.6-24.9l5.2 15.2l-3.6 20.5z"/><path class="e c3" d="M239.8 370.7L243.4 345.8M243.4 345.8L248.6 361"/><path class="e c1" d="M239.8 370.7L245 381.5"/><path class="e c2" d="M245 381.5L248.6 361"/><path class="c0" d="M336.8 414.9l3.6-1.7l5.2-0.6l-3.6 2.5z"/><path class="c0" d="M261 402.6l3.6-10.3l5.2 12.5l-3.6 2.2z"/><path class="c0" d="M184.9 420.9l3.6-1.1l5.2-35.6l-3.6 9.6z"/><path class="c0" d="M282.1 409.4l3.6 0.2l5.2 1.1l-3.6-0.7z"/><path class="f" d="M206.2 384.5l3.6 3l5.2-19.9l-3.6 29.5z"/><path class="e c0" d="M211.4 397.1L206.2 384.5L209.8 387.5"/><path class="e c2" d="M209.8 387.5L215 367.6M211.4 397.1L215 367.6"/><path class="c0" d="M303.3 412.6l3.6 0.3l5.2-1.7l-3.6 3.2z"/><path class="f" d="M227.4 339.5l3.6 20.1l5.2 18.7l-3.6-14.2z"/><path class="e c4" d="M232.6 364.1L227.4 339.5L231 359.6"/><path class="e c2" d="M231 359.6L236.2 378.3M232.6 364.1L236.2 378.3"/><path class="c0" d="M324.5 412l3.6-1.9l5.1 4.7l-3.5 1.5z"/><path class="f" d="M248.6 361l3.6 5.3l5.2 29.9l-3.6-2.1z"/><path class="e c2" d="M253.8 394.1L248.6 361L252.2 366.3M252.2 366.3L257.4 396.2"/><path class="e c0" d="M253.8 394.1L257.4 396.2"/><path class="c0" d="M593.3 422.4l3.6-6.3l5.2 6.9l-3.6 1z"/><path class="c0" d="M345.6 412.6l3.6 8.3l5.2 1.7l-3.6 1z"/><path class="c0" d="M269.8 404.8l3.6-12.3l5.1 16.6l-3.6-2.4z"/><path class="f" d="M193.7 384.2l3.7 1.5l5.2-6.5l-3.6-8.5z"/><path class="e c0" d="M193.7 384.2L197.4 385.7"/><path class="e c2" d="M193.7 384.2L199 370.7M199 370.7L202.6 379.2"/><path class="e c1" d="M197.4 385.7L202.6 379.2"/><path class="c0" d="M290.9 410.7l3.6-2.5l5.2 4.8l-3.6-1z"/><path class="f" d="M215 367.6l3.6-27.8l5.2 22.7l-3.6 20.8z"/><path class="e c4" d="M215 367.6L218.6 339.8M218.6 339.8L223.8 362.5"/><path class="e c2" d="M215 367.6L220.2 383.3M220.2 383.3L223.8 362.5"/><path class="c0" d="M312.1 411.2l3.6 3.7l5.2 1.4l-3.6-4.3z"/><path class="c1" d="M236.2 378.3l3.6-7.6l5.2 10.8l-3.6 21.8z"/><path class="c0" d="M333.2 414.8l3.6 0.1l5.2 0.2l-3.6 1.1z"/><path class="c0" d="M257.4 396.2l3.6 6.4l5.2 4.4l-3.6 7.1z"/><path class="c0" d="M181.3 421.9l3.6-1l5.2-27.1l-3.6 14.2z"/><path class="c0" d="M278.5 409.1l3.6 0.3l5.2 0.6l-3.6 2.3z"/><path class="f" d="M202.6 379.2l3.6 5.3l5.2 12.6l-3.6-38.3z"/><path class="e c1" d="M202.6 379.2L206.2 384.5"/><path class="e c3" d="M202.6 379.2L207.8 358.8"/><path class="e c0" d="M206.2 384.5L211.4 397.1M207.8 358.8L211.4 397.1"/><path class="c0" d="M299.7 413l3.6-0.4l5.2 1.8l-3.6-0.6z"/><path class="f" d="M223.8 362.5l3.6-23l5.2 24.6l-3.6 34.2z"/><path class="e c4" d="M223.8 362.5L227.4 339.5M227.4 339.5L232.6 364.1"/><path class="e c2" d="M223.8 362.5L229 398.3M229 398.3L232.6 364.1"/><path class="c0" d="M320.9 416.3l3.6-4.3l5.2 4.3l-3.6 0.9z"/><path class="f" d="M245 381.5l3.6-20.5l5.2 33.1l-3.6 10.5z"/><path class="e c2" d="M245 381.5L248.6 361M248.6 361L253.8 394.1"/><path class="e c1" d="M245 381.5L250.2 404.6"/><path class="e c0" d="M250.2 404.6L253.8 394.1"/><path class="c0" d="M342 415.1l3.6-2.5l5.2 11l-3.6-5.6z"/><path class="c0" d="M266.2 407l3.6-2.2l5.1 1.9l-3.5 3.7z"/><path class="f" d="M190.1 393.8l3.6-9.6l5.3-13.5l-3.7 26.7z"/><path class="e c0" d="M195.3 397.4L190.1 393.8L193.7 384.2"/><path class="e c2" d="M193.7 384.2L199 370.7M195.3 397.4L199 370.7"/><path class="c0" d="M287.3 410l3.6 0.7l5.2 1.3l-3.6 1z"/><path class="f" d="M211.4 397.1l3.6-29.5l5.2 15.7l-3.6 24.5z"/><path class="e c2" d="M211.4 397.1L215 367.6M215 367.6L220.2 383.3"/><path class="e c0" d="M211.4 397.1L216.6 407.8"/><path class="e c1" d="M216.6 407.8L220.2 383.3"/><path class="c0" d="M308.5 414.4l3.6-3.2l5.2 0.8l-3.6 3.9z"/><path class="f" d="M232.6 364.1l3.6 14.2l5.2 25l-3.6 4.9z"/><path class="e c2" d="M232.6 364.1L236.2 378.3"/><path class="e c0" d="M232.6 364.1L237.8 408.2M237.8 408.2L241.4 403.3"/><path class="e c1" d="M236.2 378.3L241.4 403.3"/><path class="c0" d="M329.7 416.3l3.5-1.5l5.2 1.4l-3.6 1.5z"/><path class="c0" d="M253.8 394.1l3.6 2.1l5.2 17.9l-3.6-1.9z"/><path class="c0" d="M177.7 423l3.6-1.1l5.2-13.9l-3.6-7.5z"/><path class="c0" d="M274.9 406.7l3.6 2.4l5.2 3.2l-3.6-0.4z"/><path class="f" d="M199 370.7l3.6 8.5l5.2-20.4l-3.6-13.4z"/><path class="e c2" d="M199 370.7L202.6 379.2"/><path class="e c4" d="M199 370.7L204.2 345.4M204.2 345.4L207.8 358.8"/><path class="e c3" d="M202.6 379.2L207.8 358.8"/><path class="c0" d="M296.1 412l3.6 1l5.2 0.8l-3.6 1.3z"/><path class="f" d="M220.2 383.3l3.6-20.8l5.2 35.8l-3.6 15.3z"/><path class="e c2" d="M220.2 383.3L223.8 362.5M223.8 362.5L229 398.3"/><path class="e c1" d="M220.2 383.3L225.4 413.6"/><path class="e c0" d="M225.4 413.6L229 398.3"/><path class="c0" d="M317.3 412l3.6 4.3l5.2 0.9l-3.6-1.3z"/><path class="f" d="M241.4 403.3l3.6-21.8l5.2 23.1l-3.6-0.2z"/><path class="e c1" d="M241.4 403.3L245 381.5M245 381.5L250.2 404.6"/><path class="e c0" d="M241.4 403.3L246.6 404.4M246.6 404.4L250.2 404.6"/><path class="c0" d="M338.4 416.2l3.6-1.1l5.2 2.9l-3.6 1.2z"/><path class="c0" d="M262.6 414.1l3.6-7.1l5.2 3.4l-3.6 8.1z"/><path class="c0" d="M186.5 408l3.6-14.2l5.2 3.6l-3.6 10.7z"/><path class="c0" d="M283.7 412.3l3.6-2.3l5.2 3l-3.6 0.4z"/><path class="f" d="M207.8 358.8l3.6 38.3l5.2 10.7l-3.6-20.6z"/><path class="e c0" d="M207.8 358.8L211.4 397.1M211.4 397.1L216.6 407.8"/><path class="e c3" d="M207.8 358.8L213 387.2"/><path class="e c1" d="M213 387.2L216.6 407.8"/><path class="c0" d="M304.9 413.8l3.6 0.6l5.2 1.5l-3.6 2.5z"/><path class="f" d="M229 398.3l3.6-34.2l5.2 44.1l-3.6 5.5z"/><path class="e c2" d="M229 398.3L232.6 364.1"/><path class="e c0" d="M229 398.3L234.2 413.7M232.6 364.1L237.8 408.2M234.2 413.7L237.8 408.2"/><path class="c0" d="M326.1 417.2l3.6-0.9l5.1 1.4l-3.6 0.8z"/><path class="c0" d="M250.2 404.6l3.6-10.5l5.2 18.1l-3.6-1z"/><path class="f" d="M174.1 424l3.6-1l5.2-22.5l-3.6-14.7z"/><path class="e c0" d="M179.3 385.8L174.1 424L177.7 423M177.7 423L182.9 400.5"/><path class="e c1" d="M179.3 385.8L182.9 400.5"/><path class="c0" d="M347.2 418l3.6 5.6l5.2 1.7l-3.6 1z"/><path class="c0" d="M271.4 410.4l3.5-3.7l5.2 5.2l-3.6 2.6z"/><path class="f" d="M195.3 397.4l3.7-26.7l5.2-25.3l-3.6 49z"/><path class="e c2" d="M195.3 397.4L199 370.7"/><path class="e c0" d="M195.3 397.4L200.6 394.4M200.6 394.4L204.2 345.4"/><path class="e c4" d="M199 370.7L204.2 345.4"/><path class="c0" d="M292.5 413l3.6-1l5.2 3.1l-3.6 3.4z"/><path class="f" d="M216.6 407.8l3.6-24.5l5.2 30.3l-3.6-5.2z"/><path class="e c1" d="M216.6 407.8L220.2 383.3M220.2 383.3L225.4 413.6"/><path class="e c0" d="M216.6 407.8L221.8 408.4M221.8 408.4L225.4 413.6"/><path class="c0" d="M313.7 415.9l3.6-3.9l5.2 3.9l-3.6 1z"/><path class="c0" d="M237.8 408.2l3.6-4.9l5.2 1.1l-3.6 6.3z"/><path class="c0" d="M334.8 417.7l3.6-1.5l5.2 3l-3.6 1.5z"/><path class="c0" d="M259 412.2l3.6 1.9l5.2 4.4l-3.6-3.3z"/><path class="c0" d="M182.9 400.5l3.6 7.5l5.2 0.1l-3.6-12.2z"/><path class="c0" d="M280.1 411.9l3.6 0.4l5.2 1.1l-3.6 5.1z"/><path class="f" d="M204.2 345.4l3.6 13.4l5.2 28.4l-3.6-7.4z"/><path class="e c4" d="M209.4 379.8L204.2 345.4L207.8 358.8"/><path class="e c3" d="M207.8 358.8L213 387.2"/><path class="e c1" d="M209.4 379.8L213 387.2"/><path class="c0" d="M301.3 415.1l3.6-1.3l5.2 4.6l-3.6 2.4z"/><path class="c0" d="M225.4 413.6l3.6-15.3l5.2 15.4l-3.6-5z"/><path class="c0" d="M322.5 415.9l3.6 1.3l5.1 1.3l-3.5-1.3z"/><path class="c0" d="M246.6 404.4l3.6 0.2l5.2 6.6l-3.6-1.1z"/><path class="c0" d="M170.5 425.1l3.6-1.1l5.2-38.2l-3.6 41z"/><path class="c0" d="M343.6 419.2l3.6-1.2l5.2 8.3l-3.6-3.2z"/><path class="c0" d="M267.8 418.5l3.6-8.1l5.1 4.1l-3.6 2.3z"/><path class="c0" d="M191.7 408.1l3.6-10.7l5.3-3l-3.6 20.3z"/><path class="c0" d="M288.9 413.4l3.6-0.4l5.2 5.5l-3.6 0.6z"/><path class="f" d="M213 387.2l3.6 20.6l5.2 0.6l-3.6-1.1z"/><path class="e c1" d="M218.2 407.3L213 387.2L216.6 407.8"/><path class="e c0" d="M216.6 407.8L221.8 408.4M218.2 407.3L221.8 408.4"/><path class="c0" d="M310.1 418.4l3.6-2.5l5.2 1l-3.6 1.9z"/><path class="c0" d="M234.2 413.7l3.6-5.5l5.2 2.5l-3.6 2.7z"/><path class="c0" d="M331.2 418.5l3.6-0.8l5.2 3l-3.6 1.4z"/><path class="c0" d="M255.4 411.2l3.6 1l5.2 3l-3.6-0.7z"/><path class="f" d="M179.3 385.8l3.6 14.7l5.2-4.6l-3.6-8.4z"/><path class="e c1" d="M184.5 387.5L179.3 385.8L182.9 400.5M184.5 387.5L188.1 395.9"/><path class="e c0" d="M182.9 400.5L188.1 395.9"/><path class="c0" d="M276.5 414.5l3.6-2.6l5.2 6.6l-3.6 1.7z"/><path class="f" d="M200.6 394.4l3.6-49l5.2 34.4l-3.6 29.2z"/><path class="e c0" d="M205.8 409L200.6 394.4L204.2 345.4"/><path class="e c4" d="M204.2 345.4L209.4 379.8"/><path class="e c1" d="M205.8 409L209.4 379.8"/><path class="c0" d="M297.7 418.5l3.6-3.4l5.2 5.7l-3.6 2.2z"/><path class="c0" d="M221.8 408.4l3.6 5.2l5.2-4.9l-3.6 1.1z"/><path class="c0" d="M318.9 416.9l3.6-1l5.2 1.3l-3.6 1.6z"/><path class="c0" d="M243 410.7l3.6-6.3l5.2 5.7l-3.6 6.5z"/><path class="c0" d="M340 420.7l3.6-1.5l5.2 3.9l-3.6 1.1z"/><path class="c0" d="M264.2 415.2l3.6 3.3l5.1-1.7l-3.5 1.3z"/><path class="c0" d="M188.1 395.9l3.6 12.2l5.3 6.6l-3.7-15.9z"/><path class="c0" d="M285.3 418.5l3.6-5.1l5.2 5.7l-3.6-1z"/><path class="f" d="M209.4 379.8l3.6 7.4l5.2 20.1l-3.6 5.3z"/><path class="e c1" d="M214.6 412.6L209.4 379.8L213 387.2M213 387.2L218.2 407.3"/><path class="e c0" d="M214.6 412.6L218.2 407.3"/><path class="c0" d="M306.5 420.8l3.6-2.4l5.2 0.4l-3.6 3.1z"/><path class="c0" d="M230.6 408.7l3.6 5l5.2-0.3l-3.6-6.1z"/><path class="c0" d="M327.7 417.2l3.5 1.3l5.2 3.6l-3.6-0.8z"/><path class="c0" d="M251.8 410.1l3.6 1.1l5.2 3.3l-3.6 3.1z"/><path class="f" d="M175.7 426.8l3.6-41l5.2 1.7l-3.6-17.5z"/><path class="e c0" d="M180.9 370L175.7 426.8L179.3 385.8"/><path class="e c1" d="M179.3 385.8L184.5 387.5"/><path class="e c2" d="M180.9 370L184.5 387.5"/><path class="c0" d="M348.8 423.1l3.6 3.2l5.2 1.7l-3.6 1.1z"/><path class="c0" d="M272.9 416.8l3.6-2.3l5.2 5.7l-3.6-4.3z"/><path class="c0" d="M197 414.7l3.6-20.3l5.2 14.6l-3.6 11.3z"/><path class="c0" d="M294.1 419.1l3.6-0.6l5.2 4.5l-3.6 0.3z"/><path class="c0" d="M218.2 407.3l3.6 1.1l5.2 1.4l-3.6-0.9z"/><path class="c0" d="M315.3 418.8l3.6-1.9l5.2 1.9l-3.6 3.4z"/><path class="c0" d="M239.4 413.4l3.6-2.7l5.2 5.9l-3.6-3.4z"/><path class="c0" d="M336.4 422.1l3.6-1.4l5.2 3.5l-3.6-0.3z"/><path class="c0" d="M260.6 414.5l3.6 0.7l5.2 2.9l-3.6 2.4z"/><path class="f" d="M184.5 387.5l3.6 8.4l5.2 2.9l-3.6-28.2z"/><path class="e c1" d="M184.5 387.5L188.1 395.9"/><path class="e c2" d="M184.5 387.5L189.7 370.6M189.7 370.6L193.3 398.8"/><path class="e c0" d="M188.1 395.9L193.3 398.8"/><path class="c0" d="M281.7 420.2l3.6-1.7l5.2-0.4l-3.6 3.7z"/><path class="f" d="M205.8 409l3.6-29.2l5.2 32.8l-3.6 7.8z"/><path class="e c1" d="M205.8 409L209.4 379.8M209.4 379.8L214.6 412.6"/><path class="e c0" d="M205.8 409L211 420.4M211 420.4L214.6 412.6"/><path class="c0" d="M302.9 423l3.6-2.2l5.2 1.1l-3.6 0.4z"/><path class="c0" d="M227 409.8l3.6-1.1l5.2-1.4l-3.6 1.1z"/><path class="c0" d="M324.1 418.8l3.6-1.6l5.1 4.1l-3.5 1.5z"/><path class="c0" d="M248.2 416.6l3.6-6.5l5.2 7.5l-3.6-0.5z"/><path class="f" d="M172.1 427.8l3.6-1l5.2-56.8l-3.6 24.4z"/><path class="e c0" d="M177.3 394.4L172.1 427.8L175.7 426.8M175.7 426.8L180.9 370"/><path class="e c2" d="M177.3 394.4L180.9 370"/><path class="c0" d="M345.2 424.2l3.6-1.1l5.2 6l-3.6-4.3z"/><path class="c0" d="M269.4 418.1l3.5-1.3l5.2-0.9l-3.6 1.4z"/><path class="f" d="M193.3 398.8l3.7 15.9l5.2 5.6l-3.6-36.3z"/><path class="e c0" d="M193.3 398.8L197 414.7M197 414.7L202.2 420.3"/><path class="e c1" d="M193.3 398.8L198.6 384M198.6 384L202.2 420.3"/><path class="c0" d="M290.5 418.1l3.6 1l5.2 4.2l-3.6-2z"/><path class="c0" d="M214.6 412.6l3.6-5.3l5.2 1.6l-3.6 2.3z"/><path class="c0" d="M311.7 421.9l3.6-3.1l5.2 3.4l-3.6 0.7z"/><path class="c0" d="M235.8 407.3l3.6 6.1l5.2-0.2l-3.6-0.4z"/><path class="c0" d="M332.8 421.3l3.6 0.8l5.2 1.8l-3.6 1.4z"/><path class="c0" d="M257 417.6l3.6-3.1l5.2 6l-3.6-0.9z"/><path class="f" d="M180.9 370l3.6 17.5l5.2-16.9l-3.6-86.6z"/><path class="e c2" d="M180.9 370L184.5 387.5M184.5 387.5L189.7 370.6"/><path class="e c1" d="M180.9 370L186.1 284M186.1 284L189.7 370.6"/><path class="c0" d="M278.1 415.9l3.6 4.3l5.2 1.6l-3.6-4z"/><path class="c0" d="M202.2 420.3l3.6-11.3l5.2 11.4l-3.6-21.9z"/><path class="c0" d="M299.3 423.3l3.6-0.3l5.2-0.7l-3.6 3.3z"/><path class="c0" d="M223.4 408.9l3.6 0.9l5.2-1.4l-3.6 5.9z"/><path class="c0" d="M320.5 422.2l3.6-3.4l5.2 4l-3.6 3.5z"/><path class="c0" d="M244.6 413.2l3.6 3.4l5.2 0.5l-3.6-1.5z"/><path class="c0" d="M168.5 428.9l3.6-1.1l5.2-33.4l-3.6 36.1z"/><path class="c0" d="M341.6 423.9l3.6 0.3l5.2 0.6l-3.6 0.8z"/><path class="c0" d="M265.8 420.5l3.6-2.4l5.1-0.8l-3.5 3.2z"/><path class="f" d="M189.7 370.6l3.6 28.2l5.3-14.8l-3.6-29.3z"/><path class="e c2" d="M189.7 370.6L193.3 398.8"/><path class="e c4" d="M189.7 370.6L195 354.7M195 354.7L198.6 384"/><path class="e c1" d="M193.3 398.8L198.6 384"/><path class="c0" d="M286.9 421.8l3.6-3.7l5.2 3.2l-3.6 1.9z"/><path class="c0" d="M211 420.4l3.6-7.8l5.2-1.4l-3.6 5.4z"/><path class="c0" d="M308.1 422.3l3.6-0.4l5.2 1l-3.6 0.4z"/><path class="c0" d="M232.2 408.4l3.6-1.1l5.2 5.5l-3.6 1.1z"/><path class="c0" d="M329.3 422.8l3.5-1.5l5.2 4l-3.6 1z"/><path class="c0" d="M253.4 417.1l3.6 0.5l5.2 2l-3.6-1.7z"/><path class="f" d="M177.3 394.4l3.6-24.4l5.2-86l-3.6 88.7z"/><path class="e c2" d="M182.5 372.7L177.3 394.4L180.9 370"/><path class="e c1" d="M180.9 370L186.1 284M182.5 372.7L186.1 284"/><path class="c0" d="M350.4 424.8l3.6 4.3l5.2 1.7l-3.6 1z"/><path class="c0" d="M274.5 417.3l3.6-1.4l5.2 1.9l-3.6 1.3z"/><path class="f" d="M198.6 384l3.6 36.3l5.2-21.8l-3.6-43.2z"/><path class="e c1" d="M198.6 384L202.2 420.3"/><path class="e c4" d="M198.6 384L203.8 355.3"/><path class="e c0" d="M202.2 420.3L207.4 398.5M203.8 355.3L207.4 398.5"/><path class="c0" d="M295.7 421.3l3.6 2l5.2 2.3l-3.6-1.6z"/><path class="c0" d="M219.8 411.2l3.6-2.3l5.2 5.4l-3.6-6.4z"/><path class="c0" d="M316.9 422.9l3.6-0.7l5.2 4.1l-3.6-0.4z"/><path class="c0" d="M241 412.8l3.6 0.4l5.2 2.4l-3.6 3.3z"/><path class="c0" d="M338 425.3l3.6-1.4l5.2 1.7l-3.6 1.3z"/><path class="c0" d="M262.2 419.6l3.6 0.9l5.2 0l-3.6-2.4z"/><path class="f" d="M186.1 284l3.6 86.6l5.3-15.9l-3.7 18.7z"/><path class="e c1" d="M191.3 373.4L186.1 284L189.7 370.6"/><path class="e c4" d="M189.7 370.6L195 354.7M191.3 373.4L195 354.7"/><path class="c0" d="M283.3 417.8l3.6 4l5.2 1.4l-3.6-0.9z"/><path class="f" d="M207.4 398.5l3.6 21.9l5.2-3.8l-3.6-37.6z"/><path class="e c0" d="M207.4 398.5L211 420.4M211 420.4L216.2 416.6M212.6 379L216.2 416.6"/><path class="e c2" d="M207.4 398.5L212.6 379"/><path class="c0" d="M304.5 425.6l3.6-3.3l5.2 1l-3.6 1.3z"/><path class="c0" d="M228.6 414.3l3.6-5.9l5.2 5.5l-3.6-12.7z"/><path class="c0" d="M325.7 426.3l3.6-3.5l5.1 3.5l-3.6 2.2z"/><path class="c0" d="M249.8 415.6l3.6 1.5l5.2 0.8l-3.6 1.3z"/><path class="f" d="M173.7 430.5l3.6-36.1l5.2-21.7l-3.6 59.5z"/><path class="e c0" d="M178.9 432.2L173.7 430.5L177.3 394.4M178.9 432.2L182.5 372.7"/><path class="e c2" d="M177.3 394.4L182.5 372.7"/><path class="c0" d="M346.8 425.6l3.6-0.8l5.2 7l-3.6-3.3z"/><path class="c0" d="M271 420.5l3.5-3.2l5.2 1.8l-3.6 4.9z"/><path class="f" d="M195 354.7l3.6 29.3l5.2-28.7l-3.6-160.7z"/><path class="e c4" d="M195 354.7L198.6 384M198.6 384L203.8 355.3"/><path class="e c1" d="M195 354.7L200.2 194.6M200.2 194.6L203.8 355.3"/><path class="c0" d="M292.1 423.2l3.6-1.9l5.2 2.7l-3.6 1.1z"/><path class="c0" d="M216.2 416.6l3.6-5.4l5.2-3.3l-3.6 6.5z"/><path class="c0" d="M313.3 423.3l3.6-0.4l5.2 3l-3.6-3.6z"/><path class="c0" d="M237.4 413.9l3.6-1.1l5.2 6.1l-3.6-4.7z"/><path class="c0" d="M334.4 426.3l3.6-1l5.2 1.6l-3.6-0.4z"/><path class="c0" d="M258.6 417.9l3.6 1.7l5.2-1.5l-3.6 6.3z"/><path class="f" d="M182.5 372.7l3.6-88.7l5.2 89.4l-3.6 24.4z"/><path class="e c1" d="M182.5 372.7L186.1 284M186.1 284L191.3 373.4"/><path class="e c2" d="M182.5 372.7L187.7 397.8M187.7 397.8L191.3 373.4"/><path class="c0" d="M279.7 419.1l3.6-1.3l5.2 4.5l-3.6 1.3z"/><path class="f" d="M203.8 355.3l3.6 43.2l5.2-19.5l-3.6-78.6z"/><path class="e c0" d="M203.8 355.3L207.4 398.5"/><path class="e c1" d="M203.8 355.3L209 300.4M209 300.4L212.6 379"/><path class="e c2" d="M207.4 398.5L212.6 379"/><path class="c0" d="M300.9 424l3.6 1.6l5.2-1l-3.6 0z"/><path class="f" d="M225 407.9l3.6 6.4l5.2-13.1l-3.6-19.6z"/><path class="e c0" d="M225 407.9L228.6 414.3M228.6 414.3L233.8 401.2"/><path class="e c2" d="M225 407.9L230.2 381.6M230.2 381.6L233.8 401.2"/><path class="c0" d="M322.1 425.9l3.6 0.4l5.1 2.2l-3.5 0z"/><path class="c0" d="M246.2 418.9l3.6-3.3l5.2 3.6l-3.6 2z"/><path class="c0" d="M343.2 426.9l3.6-1.3l5.2 2.9l-3.6 1.3z"/><path class="c0" d="M267.4 418.1l3.6 2.4l5.1 3.5l-3.5-2.7z"/><path class="f" d="M191.3 373.4l3.7-18.7l5.2-160.1l-3.6 162.8z"/><path class="e c4" d="M196.6 357.4L191.3 373.4L195 354.7"/><path class="e c1" d="M195 354.7L200.2 194.6M196.6 357.4L200.2 194.6"/><path class="c0" d="M288.5 422.3l3.6 0.9l5.2 1.9l-3.6-0.1z"/><path class="f" d="M212.6 379l3.6 37.6l5.2-2.2l-3.6-12.5z"/><path class="e c0" d="M212.6 379L216.2 416.6M216.2 416.6L221.4 414.4M217.8 401.9L221.4 414.4"/><path class="e c2" d="M212.6 379L217.8 401.9"/><path class="c0" d="M309.7 424.6l3.6-1.3l5.2-1l-3.6-8.1z"/><path class="f" d="M233.8 401.2l3.6 12.7l5.2 0.3l-3.6-32z"/><path class="e c0" d="M233.8 401.2L237.4 413.9M237.4 413.9L242.6 414.2"/><path class="e c2" d="M233.8 401.2L239 382.2M239 382.2L242.6 414.2"/><path class="c0" d="M330.8 428.5l3.6-2.2l5.2 0.2l-3.6-5.4z"/><path class="c0" d="M255 419.2l3.6-1.3l5.2 6.5l-3.6-4.2z"/><path class="f" d="M178.9 432.2l3.6-59.5l5.2 25.1l-3.6 36.1z"/><path class="e c0" d="M184.1 433.9L178.9 432.2L182.5 372.7M184.1 433.9L187.7 397.8"/><path class="e c2" d="M182.5 372.7L187.7 397.8"/><path class="c0" d="M352 428.5l3.6 3.3l5.2 1.7l-3.6 1z"/><path class="c0" d="M276.1 424l3.6-4.9l5.2 4.5l-3.6 1.7z"/><path class="c1" d="M200.2 194.6l3.6 160.7l5.2-54.9l-3.6 57.6z"/><path class="c0" d="M297.3 425.1l3.6-1.1l5.2 0.6l-3.6 2.1z"/><path class="f" d="M221.4 414.4l3.6-6.5l5.2-26.3l-3.6 21.7z"/><path class="e c0" d="M226.6 403.3L221.4 414.4L225 407.9"/><path class="e c2" d="M225 407.9L230.2 381.6M226.6 403.3L230.2 381.6"/><path class="c0" d="M318.5 422.3l3.6 3.6l5.2 2.6l-3.6-9.7z"/><path class="c0" d="M242.6 414.2l3.6 4.7l5.2 2.3l-3.6-4.1z"/><path class="c0" d="M339.6 426.5l3.6 0.4l5.2 2.9l-3.6-7.5z"/><path class="c0" d="M263.8 424.4l3.6-6.3l5.2 3.2l-3.6 2.3z"/><path class="f" d="M187.7 397.8l3.6-24.4l5.3-16l-3.6 77.2z"/><path class="e c2" d="M187.7 397.8L191.3 373.4"/><path class="e c0" d="M187.7 397.8L193 434.6M193 434.6L196.6 357.4"/><path class="e c4" d="M191.3 373.4L196.6 357.4"/><path class="c0" d="M284.9 423.6l3.6-1.3l5.2 2.7l-3.6-1.2z"/><path class="f" d="M209 300.4l3.6 78.6l5.2 22.9l-3.6-20.2z"/><path class="e c1" d="M214.2 381.7L209 300.4L212.6 379"/><path class="e c2" d="M212.6 379L217.8 401.9M214.2 381.7L217.8 401.9"/><path class="c0" d="M306.1 424.6l3.6 0l5.2-10.4l-3.6-1.4z"/><path class="f" d="M230.2 381.6l3.6 19.6l5.2-19l-3.6-62.2z"/><path class="e c2" d="M230.2 381.6L233.8 401.2M233.8 401.2L239 382.2"/><path class="e c1" d="M230.2 381.6L235.4 320M235.4 320L239 382.2"/><path class="c0" d="M327.3 428.5l3.5 0l5.2-7.4l-3.5-1.4z"/><path class="c0" d="M251.4 421.2l3.6-2l5.2 1l-3.6-0.5z"/><path class="c0" d="M348.4 429.8l3.6-1.3l5.2 6l-3.6-4z"/><path class="c0" d="M272.6 421.3l3.5 2.7l5.2 1.3l-3.5-0.8z"/><path class="f" d="M196.6 357.4l3.6-162.8l5.2 163.4l-3.6 31.5z"/><path class="e c1" d="M196.6 357.4L200.2 194.6M200.2 194.6L205.4 358"/><path class="e c4" d="M196.6 357.4L201.8 389.5M201.8 389.5L205.4 358"/><path class="c0" d="M293.7 425l3.6 0.1l5.2 1.6l-3.6 1.6z"/><path class="c0" d="M217.8 401.9l3.6 12.5l5.2-11.1l-3.6 6.7z"/><path class="c0" d="M314.9 414.2l3.6 8.1l5.2-3.5l-3.6-12.6z"/><path class="f" d="M239 382.2l3.6 32l5.2 2.9l-3.6-12.5z"/><path class="e c2" d="M244.2 404.6L239 382.2L242.6 414.2"/><path class="e c0" d="M242.6 414.2L247.8 417.1M244.2 404.6L247.8 417.1"/><path class="c0" d="M336 421.1l3.6 5.4l5.2-4.2l-3.6-10.9z"/><path class="c0" d="M260.2 420.2l3.6 4.2l5.2-0.8l-3.6-1.6z"/><path class="c0" d="M184.1 433.9l3.6-36.1l5.3 36.8l-3.6 1z"/><path class="c0" d="M281.3 425.3l3.6-1.7l5.2 0.2l-3.6 0.6z"/><path class="f" d="M205.4 358l3.6-57.6l5.2 81.3l-3.6 22.3z"/><path class="e c1" d="M205.4 358L209 300.4M209 300.4L214.2 381.7"/><path class="e c0" d="M205.4 358L210.6 404"/><path class="e c2" d="M210.6 404L214.2 381.7"/><path class="c0" d="M302.5 426.7l3.6-2.1l5.2-11.8l-3.6 8.2z"/><path class="f" d="M226.6 403.3l3.6-21.7l5.2-61.6l-3.6 64.3z"/><path class="e c2" d="M231.8 384.3L226.6 403.3L230.2 381.6"/><path class="e c1" d="M230.2 381.6L235.4 320M231.8 384.3L235.4 320"/><path class="c0" d="M323.7 418.8l3.6 9.7l5.2-8.8l-3.6 2.8z"/><path class="c0" d="M247.8 417.1l3.6 4.1l5.2-1.5l-3.6 4.7z"/><path class="c0" d="M344.8 422.3l3.6 7.5l5.2 0.7l-3.6-7.7z"/><path class="c0" d="M269 423.6l3.6-2.3l5.2 3.2l-3.6 0.6z"/><path class="f" d="M193 434.6l3.6-77.2l5.2 32.1l-3.6 46.7z"/><path class="e c0" d="M198.2 436.2L193 434.6L196.6 357.4M198.2 436.2L201.8 389.5"/><path class="e c4" d="M196.6 357.4L201.8 389.5"/><path class="c0" d="M290.1 423.8l3.6 1.2l5.2 3.3l-3.6-1.9z"/><path class="f" d="M214.2 381.7l3.6 20.2l5.2 8.1l-3.6 7z"/><path class="e c2" d="M219.4 417L214.2 381.7L217.8 401.9"/><path class="e c0" d="M217.8 401.9L223 410M219.4 417L223 410"/><path class="c0" d="M311.3 412.8l3.6 1.4l5.2-8l-3.6-2.6z"/><path class="f" d="M235.4 320l3.6 62.2l5.2 22.4l-3.6-19.7z"/><path class="e c1" d="M240.6 384.9L235.4 320L239 382.2"/><path class="e c2" d="M239 382.2L244.2 404.6M240.6 384.9L244.2 404.6"/><path class="c0" d="M332.5 419.7l3.5 1.4l5.2-9.7l-3.6-3.5z"/><path class="c0" d="M256.6 419.7l3.6 0.5l5.2 1.8l-3.6-0.4z"/><path class="c0" d="M353.6 430.5l3.6 4l5.2 1.7l-3.6 1.1z"/><path class="c0" d="M277.8 424.5l3.5 0.8l5.2-0.9l-3.6 4.5z"/><path class="f" d="M201.8 389.5l3.6-31.5l5.2 46l-3.6 32.9z"/><path class="e c4" d="M201.8 389.5L205.4 358"/><path class="e c0" d="M201.8 389.5L207 436.9M205.4 358L210.6 404M207 436.9L210.6 404"/><path class="c0" d="M298.9 428.3l3.6-1.6l5.2-5.7l-3.6 10z"/><path class="f" d="M223 410l3.6-6.7l5.2-19l-3.6 33.3z"/><path class="e c0" d="M228.2 417.6L223 410L226.6 403.3"/><path class="e c2" d="M226.6 403.3L231.8 384.3M228.2 417.6L231.8 384.3"/><path class="c0" d="M320.1 406.2l3.6 12.6l5.2 3.7l-3.6-10.8z"/><path class="c0" d="M244.2 404.6l3.6 12.5l5.2 7.3l-3.6-3z"/><path class="c0" d="M341.2 411.4l3.6 10.9l5.2 0.5l-3.6-12.1z"/><path class="c0" d="M265.4 422l3.6 1.6l5.2 1.5l-3.6 0.3z"/><path class="c0" d="M286.5 424.4l3.6-0.6l5.2 2.6l-3.6 0.7z"/><path class="f" d="M210.6 404l3.6-22.3l5.2 35.3l-3.6 20.5z"/><path class="e c2" d="M210.6 404L214.2 381.7M214.2 381.7L219.4 417"/><path class="e c0" d="M210.6 404L215.8 437.5M215.8 437.5L219.4 417"/><path class="c0" d="M307.7 421l3.6-8.2l5.2-9.2l-3.6 11.6z"/><path class="f" d="M231.8 384.3l3.6-64.3l5.2 64.9l-3.6 21.8z"/><path class="e c1" d="M231.8 384.3L235.4 320M235.4 320L240.6 384.9"/><path class="e c2" d="M231.8 384.3L237 406.7M237 406.7L240.6 384.9"/><path class="c0" d="M328.9 422.5l3.6-2.8l5.1-11.8l-3.5 9.4z"/><path class="c0" d="M253 424.4l3.6-4.7l5.2 1.9l-3.6 6.3z"/><path class="c0" d="M350 422.8l3.6 7.7l5.2 6.8l-3.6-7.9z"/><path class="c0" d="M274.2 425.1l3.6-0.6l5.1 4.4l-3.5-0.9z"/><path class="c0" d="M198.2 436.2l3.6-46.7l5.2 47.4l-3.6 1z"/><path class="c0" d="M295.3 426.4l3.6 1.9l5.2 2.7l-3.6 0.4z"/><path class="c0" d="M219.4 417l3.6-7l5.2 7.6l-3.6-2.6z"/><path class="c0" d="M316.5 403.6l3.6 2.6l5.2 5.5l-3.6-2.2z"/><path class="f" d="M240.6 384.9l3.6 19.7l5.2 16.8l-3.6-0.1z"/><path class="e c2" d="M245.8 421.3L240.6 384.9L244.2 404.6"/><path class="e c0" d="M244.2 404.6L249.4 421.4M245.8 421.3L249.4 421.4"/><path class="c0" d="M337.6 407.9l3.6 3.5l5.2-0.7l-3.6-3.8z"/><path class="c0" d="M261.8 421.6l3.6 0.4l5.2 3.4l-3.6 1.2z"/><path class="c0" d="M282.9 428.9l3.6-4.5l5.2 2.7l-3.6 4.2z"/><path class="c0" d="M207 436.9l3.6-32.9l5.2 33.5l-3.6 1.1z"/><path class="c0" d="M379.9 437.5l3.6-1.1l5.2 1.7l-3.6-0.8z"/><path class="c0" d="M304.1 431l3.6-10l5.2-5.8l-3.6 14.4z"/><path class="f" d="M228.2 417.6l3.6-33.3l5.2 22.4l-3.6 12.7z"/><path class="e c2" d="M228.2 417.6L231.8 384.3M231.8 384.3L237 406.7"/><path class="e c0" d="M228.2 417.6L233.4 419.4M233.4 419.4L237 406.7"/><path class="c0" d="M325.3 411.7l3.6 10.8l5.2-5.2l-3.6 8.7z"/><path class="c0" d="M249.4 421.4l3.6 3l5.2 3.5l-3.6-3.7z"/><path class="c0" d="M346.4 410.7l3.6 12.1l5.2 6.6l-3.6-7.3z"/><path class="c0" d="M270.6 425.4l3.6-0.3l5.2 2.9l-3.6-2.4z"/><path class="c0" d="M291.7 427.1l3.6-0.7l5.2 5l-3.6 0.7z"/><path class="c0" d="M215.8 437.5l3.6-20.5l5.2-2l-3.6 24.2z"/><path class="c0" d="M312.9 415.2l3.6-11.6l5.2 5.9l-3.6 10.3z"/><path class="f" d="M237 406.7l3.6-21.8l5.2 36.4l-3.6 4.5z"/><path class="e c2" d="M237 406.7L240.6 384.9M240.6 384.9L245.8 421.3"/><path class="e c0" d="M237 406.7L242.2 425.8M242.2 425.8L245.8 421.3"/><path class="c0" d="M334.1 417.3l3.5-9.4l5.2-1l-3.6 10.1z"/><path class="c0" d="M258.2 427.9l3.6-6.3l5.2 5l-3.6 5.3z"/><path class="c0" d="M355.2 429.4l3.6 7.9l5.2 1.7l-3.6 1z"/><path class="c0" d="M279.4 428l3.5 0.9l5.2 2.4l-3.5-0.2z"/><path class="c0" d="M376.3 438.5l3.6-1l5.2-0.2l-3.6 0.3z"/><path class="c0" d="M300.5 431.4l3.6-0.4l5.2-1.4l-3.6 6.1z"/><path class="c0" d="M224.6 415l3.6 2.6l5.2 1.8l-3.6-2.2z"/><path class="c0" d="M321.7 409.5l3.6 2.2l5.2 14.3l-3.6-0.6z"/><path class="c0" d="M245.8 421.3l3.6 0.1l5.2 2.8l-3.6-0.1z"/><path class="c0" d="M342.8 406.9l3.6 3.8l5.2 11.4l-3.6-2.1z"/><path class="c0" d="M267 426.6l3.6-1.2l5.2 0.2l-3.6 1.8z"/><path class="c0" d="M288.1 431.3l3.6-4.2l5.2 5l-3.6 1.7z"/><path class="c0" d="M385.1 437.3l3.6 0.8l5.2 1.7l-3.6-3.3z"/><path class="c0" d="M309.3 429.6l3.6-14.4l5.2 4.6l-3.6 12.7z"/><path class="c0" d="M233.4 419.4l3.6-12.7l5.2 19.1l-3.6-2.2z"/><path class="c0" d="M330.5 426l3.6-8.7l5.1-0.3l-3.5 14z"/><path class="c0" d="M254.6 424.2l3.6 3.7l5.2 4l-3.6-2.2z"/><path class="c0" d="M351.6 422.1l3.6 7.3l5.2 10.6l-3.6 1.1z"/><path class="c0" d="M275.8 425.6l3.6 2.4l5.2 3.1l-3.6-1.8z"/><path class="c0" d="M372.7 439.6l3.6-1.1l5.2-0.9l-3.6 1.7z"/><path class="c0" d="M296.9 432.1l3.6-0.7l5.2 4.3l-3.6-0.1z"/><path class="c0" d="M221 439.2l3.6-24.2l5.2 2.2l-3.6 23.7z"/><path class="c0" d="M318.1 419.8l3.6-10.3l5.2 15.9l-3.6 5.8z"/><path class="c0" d="M242.2 425.8l3.6-4.5l5.2 2.8l-3.6 4.4z"/><path class="c0" d="M339.2 417l3.6-10.1l5.2 13.1l-3.6 6.9z"/><path class="c0" d="M263.4 431.9l3.6-5.3l5.2 0.8l-3.6 4.6z"/><path class="c0" d="M284.6 431.1l3.5 0.2l5.2 2.5l-3.5-0.4z"/><path class="c0" d="M381.5 437.6l3.6-0.3l5.2-0.8l-3.6 0.9z"/><path class="c0" d="M305.7 435.7l3.6-6.1l5.2 2.9l-3.6 5.8z"/><path class="c0" d="M229.8 417.2l3.6 2.2l5.2 4.2l-3.6 0.2z"/><path class="c0" d="M326.9 425.4l3.6 0.6l5.2 5l-3.6 6.4z"/><path class="c0" d="M251 424.1l3.6 0.1l5.2 5.5l-3.6 0.2z"/><path class="c0" d="M348 420l3.6 2.1l5.2 19l-3.6-6.7z"/><path class="c0" d="M272.2 427.4l3.6-1.8l5.2 3.7l-3.6 1.7z"/><path class="c0" d="M369.2 440.6l3.5-1l5.2-0.3l-3.6 0.6z"/><path class="c0" d="M293.3 433.8l3.6-1.7l5.2 3.5l-3.6 1.9z"/><path class="c0" d="M390.3 436.5l3.6 3.3l5.1 1.6l-3.5-6.5z"/><path class="c0" d="M314.5 432.5l3.6-12.7l5.2 11.4l-3.6 5.9z"/><path class="c0" d="M238.6 423.6l3.6 2.2l5.2 2.7l-3.6 1.6z"/><path class="c0" d="M335.7 431l3.5-14l5.2 9.9l-3.6 9.3z"/><path class="c0" d="M259.8 429.7l3.6 2.2l5.2 0.1l-3.6 0.5z"/><path class="c0" d="M281 429.3l3.6 1.8l5.2 2.3l-3.6 0.2z"/><path class="c0" d="M377.9 439.3l3.6-1.7l5.2-0.2l-3.6 2.5z"/><path class="c0" d="M302.1 435.6l3.6 0.1l5.2 2.6l-3.6 1.5z"/><path class="c0" d="M226.2 440.9l3.6-23.7l5.2 6.6l-3.6 18.8z"/><path class="c0" d="M323.3 431.2l3.6-5.8l5.2 12l-3.6 2.5z"/><path class="c0" d="M247.4 428.5l3.6-4.4l5.2 5.8l-3.6 3.5z"/><path class="c0" d="M344.4 426.9l3.6-6.9l5.2 14.4l-3.6 3.3z"/><path class="c0" d="M268.6 432l3.6-4.6l5.2 3.6l-3.6 1.1z"/><path class="c0" d="M365.6 441.7l3.6-1.1l5.1-0.7l-3.5 1.4z"/><path class="c0" d="M289.8 433.4l3.5 0.4l5.2 3.7l-3.5-1.8z"/><path class="c0" d="M386.7 437.4l3.6-0.9l5.2-1.6l-3.6 0.8z"/><path class="c0" d="M310.9 438.3l3.6-5.8l5.2 4.6l-3.6 3.9z"/><path class="c0" d="M235 423.8l3.6-0.2l5.2 6.5l-3.6 2z"/><path class="c0" d="M332.1 437.4l3.6-6.4l5.1 5.2l-3.5 7.4z"/><path class="c0" d="M256.2 429.9l3.6-0.2l5.2 2.8l-3.6 3.1z"/><path class="c0" d="M353.2 434.4l3.6 6.7l5.2 1.6l-3.6 1.1z"/><path class="c0" d="M277.4 431l3.6-1.7l5.2 4.3l-3.6 2.8z"/><path class="c0" d="M374.3 439.9l3.6-0.6l5.2 0.6l-3.6 1.6z"/><path class="c0" d="M298.5 437.5l3.6-1.9l5.2 4.2l-3.6-1.1z"/><path class="c0" d="M395.5 434.9l3.5 6.5l5.2 1.7l-3.6-5.5z"/><path class="c0" d="M319.7 437.1l3.6-5.9l5.2 8.7l-3.6 0.5z"/><path class="c0" d="M243.8 430.1l3.6-1.6l5.2 4.9l-3.6 3.5z"/><path class="c0" d="M340.8 436.2l3.6-9.3l5.2 10.8l-3.6 4.1z"/><path class="c0" d="M265 432.5l3.6-0.5l5.2 0.1l-3.6-0.1z"/><path class="c0" d="M362 442.7l3.6-1l5.2-0.4l-3.6 0.8z"/><path class="c0" d="M286.2 433.6l3.6-0.2l5.2 2.3l-3.6 0.3z"/><path class="c0" d="M383.1 439.9l3.6-2.5l5.2-1.7l-3.6 4.5z"/><path class="c0" d="M307.3 439.8l3.6-1.5l5.2 2.7l-3.6 0.6z"/><path class="c0" d="M231.4 442.6l3.6-18.8l5.2 8.3l-3.6 12.2z"/><path class="c0" d="M328.5 439.9l3.6-2.5l5.2 6.2l-3.6-2.5z"/><path class="c0" d="M252.6 433.4l3.6-3.5l5.2 5.7l-3.6 3.2z"/><path class="c0" d="M349.6 437.7l3.6-3.3l5.2 9.4l-3.6-3.1z"/><path class="c0" d="M273.8 432.1l3.6-1.1l5.2 5.4l-3.6-1.9z"/><path class="c0" d="M370.8 441.3l3.5-1.4l5.2 1.6l-3.6 0.5z"/><path class="c0" d="M295 435.7l3.5 1.8l5.2 1.2l-3.6-0.4z"/><path class="c0" d="M391.9 435.7l3.6-0.8l5.1 2.7l-3.5 2.2z"/><path class="c0" d="M316.1 441l3.6-3.9l5.2 3.3l-3.6-0.1z"/><path class="c0" d="M240.2 432.1l3.6-2l5.2 6.8l-3.6 1.8z"/><path class="c0" d="M337.3 443.6l3.5-7.4l5.2 5.6l-3.5 1.7z"/><path class="c0" d="M261.4 435.6l3.6-3.1l5.2-0.5l-3.6 3.6z"/><path class="c0" d="M358.4 443.8l3.6-1.1l5.2-0.6l-3.6 3.4z"/><path class="c0" d="M282.6 436.4l3.6-2.8l5.2 2.4l-3.6 3.2z"/><path class="c0" d="M379.5 441.5l3.6-1.6l5.2 0.3l-3.6-2.8z"/><path class="c0" d="M303.7 438.7l3.6 1.1l5.2 1.8l-3.6 0.6z"/><path class="c0" d="M400.6 437.6l3.6 5.5l5.2 1.7l-3.6-2.7z"/><path class="c0" d="M324.9 440.4l3.6-0.5l5.2 1.2l-3.6 1.5z"/><path class="c0" d="M249 436.9l3.6-3.5l5.2 5.4l-3.6 3.4z"/><path class="c0" d="M346 441.8l3.6-4.1l5.2 3l-3.6 5.2z"/><path class="c0" d="M270.2 432l3.6 0.1l5.2 2.4l-3.6-0.1z"/><path class="c0" d="M367.2 442.1l3.6-0.8l5.1 0.7l-3.5-0.3z"/><path class="c0" d="M291.4 436l3.6-0.3l5.1 2.6l-3.5 1.6z"/><path class="c0" d="M388.3 440.2l3.6-4.5l5.2 4.1l-3.6 2.6z"/><path class="c0" d="M312.5 441.6l3.6-0.6l5.2-0.7l-3.6 3.7z"/><path class="c0" d="M236.6 444.3l3.6-12.2l5.2 6.6l-3.6 7.2z"/><path class="c0" d="M333.7 441.1l3.6 2.5l5.2-0.1l-3.6 0.6z"/><path class="c0" d="M257.8 438.8l3.6-3.2l5.2 0l-3.6 5.3z"/><path class="c0" d="M354.8 440.7l3.6 3.1l5.2 1.7l-3.6-1.6z"/><path class="c0" d="M279 434.5l3.6 1.9l5.2 2.8l-3.6-0.2z"/><path class="c0" d="M375.9 442l3.6-0.5l5.2-4.1l-3.6 3z"/><path class="c0" d="M300.1 438.3l3.6 0.4l5.2 3.5l-3.6-0.8z"/><path class="c0" d="M397.1 439.8l3.5-2.2l5.2 4.5l-3.6 1.5z"/><path class="c0" d="M321.3 440.3l3.6 0.1l5.2 2.2l-3.6 1.1z"/><path class="c0" d="M245.4 438.7l3.6-1.8l5.2 5.3l-3.6 4.4z"/><path class="c0" d="M342.5 443.5l3.5-1.7l5.2 4.1l-3.6-2.6z"/><path class="c0" d="M266.6 435.6l3.6-3.6l5.2 2.4l-3.6 3.5z"/><path class="c0" d="M363.6 445.5l3.6-3.4l5.2-0.4l-3.6 1.3z"/><path class="c0" d="M287.8 439.2l3.6-3.2l5.2 3.9l-3.6 1.1z"/><path class="c0" d="M384.7 437.4l3.6 2.8l5.2 2.2l-3.6 1.6z"/><path class="c0" d="M308.9 442.2l3.6-0.6l5.2 2.4l-3.6 0.8z"/><path class="c0" d="M405.8 442.1l3.6 2.7l5.2 1.7l-3.6-0.7z"/><path class="c0" d="M330.1 442.6l3.6-1.5l5.2 3l-3.6-1.2z"/><path class="c0" d="M254.2 442.2l3.6-3.4l5.2 2.1l-3.6 4.2z"/><path class="c0" d="M351.2 445.9l3.6-5.2l5.2 3.2l-3.6-0.1z"/><path class="c0" d="M275.4 434.4l3.6 0.1l5.2 4.5l-3.6 0.3z"/><path class="c0" d="M372.4 441.7l3.5 0.3l5.2-1.6l-3.5 0.2z"/><path class="c0" d="M296.6 439.9l3.5-1.6l5.2 3.1l-3.5-0.9z"/><path class="c0" d="M393.5 442.4l3.6-2.6l5.1 3.8l-3.5 1.9z"/><path class="c0" d="M317.7 444l3.6-3.7l5.2 3.4l-3.6 2.3z"/><path class="c0" d="M241.8 445.9l3.6-7.2l5.2 7.9l-3.6 1z"/><path class="c0" d="M338.9 444.1l3.6-0.6l5.1-0.2l-3.5 1.5z"/><path class="c0" d="M263 440.9l3.6-5.3l5.2 2.3l-3.6 5z"/><path class="c0" d="M360 443.9l3.6 1.6l5.2-2.5l-3.6-0.2z"/><path class="c0" d="M284.2 439l3.6 0.2l5.2 1.8l-3.6 0.8z"/><path class="c0" d="M381.1 440.4l3.6-3l5.2 6.6l-3.6-3.1z"/><path class="c0" d="M305.3 441.4l3.6 0.8l5.2 2.6l-3.6-1.3z"/><path class="c0" d="M402.2 443.6l3.6-1.5l5.2 3.7l-3.6 0.9z"/><path class="c0" d="M326.5 443.7l3.6-1.1l5.2 0.3l-3.6 3.5z"/><path class="c0" d="M250.6 446.6l3.6-4.4l5.2 2.9l-3.6 3.2z"/><path class="c0" d="M347.6 443.3l3.6 2.6l5.2-2.1l-3.6 2.1z"/><path class="c0" d="M271.8 437.9l3.6-3.5l5.2 4.9l-3.6 2.8z"/><path class="c0" d="M368.8 443l3.6-1.3l5.2-1.1l-3.6 0.7z"/><path class="c0" d="M293 441l3.6-1.1l5.2 0.6l-3.6 1z"/><path class="c0" d="M389.9 444l3.6-1.6l5.2 3.1l-3.6-0.1z"/><path class="c0" d="M314.1 444.8l3.6-0.8l5.2 2l-3.6-1.2z"/><path class="c0" d="M411 445.8l3.6 0.7l5.2 1.7l-3.6 1z"/><path class="c0" d="M335.3 442.9l3.6 1.2l5.2 0.7l-3.6 0.3z"/><path class="c0" d="M259.4 445.1l3.6-4.2l5.2 2l-3.6 2.8z"/><path class="c0" d="M356.4 443.8l3.6 0.1l5.2-1.1l-3.6 1.7z"/><path class="c0" d="M280.6 439.3l3.6-0.3l5.2 2.8l-3.6-0.4z"/><path class="c0" d="M377.6 440.6l3.5-0.2l5.2 0.5l-3.6 0.8z"/><path class="c0" d="M301.8 440.5l3.5 0.9l5.2 2.1l-3.5 0.3z"/><path class="c0" d="M398.7 445.5l3.5-1.9l5.2 3.1l-3.5 3z"/><path class="c0" d="M322.9 446l3.6-2.3l5.2 2.7l-3.6 3.1z"/><path class="c0" d="M344.1 444.8l3.5-1.5l5.2 2.6l-3.5-1.2z"/><path class="c0" d="M268.2 442.9l3.6-5l5.2 4.2l-3.6 3.8z"/><path class="c0" d="M365.2 442.8l3.6 0.2l5.2-1.7l-3.6 0.4z"/><path class="c0" d="M289.4 441.8l3.6-0.8l5.2 0.5l-3.6 2.9z"/><path class="c0" d="M386.3 440.9l3.6 3.1l5.2 1.4l-3.6 0.3z"/><path class="c0" d="M310.5 443.5l3.6 1.3l5.2 0l-3.6 1.6z"/><path class="c0" d="M407.4 446.7l3.6-0.9l5.2 3.4l-3.6 1.1z"/><path class="c0" d="M331.7 446.4l3.6-3.5l5.2 2.2l-3.6 2.5z"/><path class="c0" d="M255.8 448.3l3.6-3.2l5.2 0.6l-3.6 4.2z"/><path class="c0" d="M352.8 445.9l3.6-2.1l5.2 0.7l-3.6 0.7z"/><path class="c0" d="M277 442.1l3.6-2.8l5.2 2.1l-3.6 3.9z"/><path class="c0" d="M374 441.3l3.6-0.7l5.1 1.1l-3.5 1.8z"/><path class="c0" d="M298.2 441.5l3.6-1l5.2 3.3l-3.6 1z"/><path class="c0" d="M395.1 445.4l3.6 0.1l5.2 4.2l-3.6-0.7z"/><path class="c0" d="M319.3 444.8l3.6 1.2l5.2 3.5l-3.6 1.1z"/><path class="c0" d="M340.5 445.1l3.6-0.3l5.2-0.1l-3.6 2.8z"/><path class="c0" d="M264.6 445.7l3.6-2.8l5.2 3l-3.6 0.2z"/><path class="c0" d="M361.6 444.5l3.6-1.7l5.2-1.1l-3.6 3.8z"/><path class="c0" d="M285.8 441.4l3.6 0.4l5.2 2.6l-3.6-0.1z"/><path class="c0" d="M382.7 441.7l3.6-0.8l5.2 4.8l-3.6 2z"/><path class="c0" d="M307 443.8l3.5-0.3l5.2 2.9l-3.5 1.3z"/><path class="c0" d="M403.9 449.7l3.5-3l5.2 3.6l-3.6 1z"/><path class="c0" d="M328.1 449.5l3.6-3.1l5.2 1.2l-3.6 3.6z"/><path class="c0" d="M349.3 444.7l3.5 1.2l5.2-0.7l-3.6 0.6z"/><path class="c0" d="M273.4 445.9l3.6-3.8l5.2 3.2l-3.6 1.3z"/><path class="c0" d="M370.4 441.7l3.6-0.4l5.2 2.2l-3.6 1.6z"/><path class="c0" d="M294.6 444.4l3.6-2.9l5.2 3.3l-3.6 2.6z"/><path class="c0" d="M391.5 445.7l3.6-0.3l5.2 3.6l-3.6 2.8z"/><path class="c0" d="M315.7 446.4l3.6-1.6l5.2 5.8l-3.6-4.4z"/><path class="c0" d="M336.9 447.6l3.6-2.5l5.2 2.4l-3.6-0.8z"/><path class="c0" d="M261 449.9l3.6-4.2l5.2 0.4l-3.6 5.5z"/><path class="c0" d="M358 445.2l3.6-0.7l5.2 1l-3.6 1.1z"/><path class="c0" d="M282.2 445.3l3.6-3.9l5.2 2.9l-3.6 3.5z"/><path class="c0" d="M379.2 443.5l3.5-1.8l5.2 6l-3.5 0.6z"/><path class="c0" d="M303.4 444.8l3.6-1l5.2 3.9l-3.6 1.7z"/><path class="c0" d="M400.3 449l3.6 0.7l5.1 1.6l-3.5 1.1z"/><path class="c0" d="M324.5 450.6l3.6-1.1l5.2 1.7l-3.6-2.8z"/><path class="c0" d="M345.7 447.5l3.6-2.8l5.1 1.1l-3.5 6.6z"/><path class="c0" d="M269.8 446.1l3.6-0.2l5.2 0.7l-3.6 1.2z"/><path class="c0" d="M366.8 445.5l3.6-3.8l5.2 3.4l-3.6 3.3z"/><path class="c0" d="M291 444.3l3.6 0.1l5.2 3l-3.6 1.2z"/><path class="c0" d="M387.9 447.7l3.6-2l5.2 6.1l-3.6-0.8z"/><path class="c0" d="M312.2 447.7l3.5-1.3l5.2-0.2l-3.5 4.6z"/><path class="c0" d="M333.3 451.2l3.6-3.6l5.2-0.9l-3.6 1.5z"/><path class="c0" d="M354.4 445.8l3.6-0.6l5.2 1.4l-3.6 3z"/><path class="c0" d="M278.6 446.6l3.6-1.3l5.2 2.5l-3.6 2.2z"/><path class="c0" d="M375.6 445.1l3.6-1.6l5.2 4.8l-3.6 0.2z"/><path class="c0" d="M299.8 447.4l3.6-2.6l5.2 4.6l-3.6 0.1z"/><path class="c0" d="M396.7 451.8l3.6-2.8l5.2 3.4l-3.6 1z"/><path class="c0" d="M320.9 446.2l3.6 4.4l5.2-2.2l-3.6 1.6z"/><path class="c0" d="M342.1 446.7l3.6 0.8l5.2 4.9l-3.6-4.2z"/><path class="c0" d="M266.2 451.6l3.6-5.5l5.2 1.7l-3.6 5.5z"/><path class="c0" d="M363.2 446.6l3.6-1.1l5.2 2.9l-3.6 1.2z"/><path class="c0" d="M287.4 447.8l3.6-3.5l5.2 4.3l-3.6 2.1z"/><path class="c0" d="M384.4 448.3l3.5-0.6l5.2 3.3l-3.6 2.9z"/><path class="c0" d="M308.6 449.4l3.6-1.7l5.2 3.1l-3.6 0.9z"/><path class="c0" d="M329.7 448.4l3.6 2.8l5.2-3l-3.6 5.7z"/><path class="c0" d="M350.9 452.4l3.5-6.6l5.2 3.8l-3.5-0.9z"/><path class="c0" d="M275 447.8l3.6-1.2l5.2 3.4l-3.6 3.9z"/><path class="c0" d="M372 448.4l3.6-3.3l5.2 3.4l-3.6 2.5z"/><path class="c0" d="M296.2 448.6l3.6-1.2l5.2 2.1l-3.6-0.3z"/><path class="c0" d="M393.1 451l3.6 0.8l5.2 1.6l-3.6 1.1z"/><path class="c0" d="M317.4 450.8l3.5-4.6l5.2 3.8l-3.5-0.8z"/><path class="c0" d="M338.5 448.2l3.6-1.5l5.2 1.5l-3.6 2.5z"/><path class="c0" d="M359.6 449.6l3.6-3l5.2 3l-3.6 0.7z"/><path class="c0" d="M283.8 450l3.6-2.2l5.2 2.9l-3.6 0.3z"/><path class="c0" d="M380.8 448.5l3.6-0.2l5.1 5.6l-3.5 1z"/><path class="c0" d="M305 449.5l3.6-0.1l5.2 2.3l-3.6-1z"/><path class="c0" d="M326.1 450l3.6-1.6l5.2 5.5l-3.6-4.4z"/><path class="c0" d="M347.3 448.2l3.6 4.2l5.2-3.7l-3.6 2.7z"/><path class="c0" d="M271.4 453.3l3.6-5.5l5.2 6.1l-3.6 1.1z"/><path class="c0" d="M368.4 449.6l3.6-1.2l5.2 2.6l-3.6 1.1z"/><path class="c0" d="M292.6 450.7l3.6-2.1l5.2 0.6l-3.6 2.2z"/><path class="c0" d="M389.5 453.9l3.6-2.9l5.2 3.5l-3.6 1.1z"/><path class="c0" d="M313.8 451.7l3.6-0.9l5.2-1.6l-3.6 1.6z"/><path class="c0" d="M334.9 453.9l3.6-5.7l5.2 2.5l-3.6 0z"/><path class="c0" d="M356.1 448.7l3.5 0.9l5.2 0.7l-3.5 5.5z"/><path class="c0" d="M280.2 453.9l3.6-3.9l5.2 1l-3.6 4.6z"/><path class="c0" d="M377.2 451l3.6-2.5l5.2 6.4l-3.6 1.1z"/><path class="c0" d="M301.4 449.2l3.6 0.3l5.2 1.2l-3.6-0.6z"/><path class="c0" d="M322.6 449.2l3.5 0.8l5.2-0.5l-3.5 3z"/><path class="c0" d="M343.7 450.7l3.6-2.5l5.2 3.2l-3.6 4.8z"/><path class="c0" d="M364.8 450.3l3.6-0.7l5.2 2.5l-3.6 1.4z"/><path class="c0" d="M289 451l3.6-0.3l5.2 0.7l-3.6 0.9z"/><path class="c0" d="M310.2 450.7l3.6 1l5.2-0.9l-3.6 0.7z"/><path class="c0" d="M331.3 449.5l3.6 4.4l5.2-3.2l-3.6 2.4z"/><path class="c0" d="M352.5 451.4l3.6-2.7l5.2 7.1l-3.6-1.1z"/><path class="c0" d="M373.6 452.1l3.6-1.1l5.2 5l-3.6 1.1z"/><path class="c0" d="M297.8 451.4l3.6-2.2l5.2 0.9l-3.6 1.2z"/><path class="c0" d="M319 450.8l3.6-1.6l5.2 3.3l-3.6 0z"/><path class="c0" d="M340.1 450.7l3.6 0l5.2 5.5l-3.6-3.8z"/><path class="c0" d="M361.3 455.8l3.5-5.5l5.2 3.2l-3.5 4z"/><path class="c0" d="M285.4 455.6l3.6-4.6l5.2 1.3l-3.6 5z"/><path class="c0" d="M306.6 450.1l3.6 0.6l5.2 0.8l-3.6-0.9z"/><path class="c0" d="M327.8 452.5l3.5-3l5.2 3.6l-3.5-0.5z"/><path class="c0" d="M348.9 456.2l3.6-4.8l5.2 3.3l-3.6 3.2z"/><path class="c0" d="M370 453.5l3.6-1.4l5.2 5l-3.6 1z"/><path class="c0" d="M294.2 452.3l3.6-0.9l5.2-0.1l-3.6 1.7z"/><path class="c0" d="M315.4 451.5l3.6-0.7l5.2 1.7l-3.6 0.8z"/><path class="c0" d="M336.5 453.1l3.6-2.4l5.2 1.7l-3.6 1.4z"/><path class="c0" d="M357.7 454.7l3.6 1.1l5.2 1.7l-3.6 1z"/><path class="c0" d="M303 451.3l3.6-1.2l5.2 0.5l-3.6 1.3z"/><path class="c0" d="M324.2 452.5l3.6 0l5.2 0.1l-3.6 2z"/><path class="c0" d="M345.3 452.4l3.6 3.8l5.2 1.7l-3.6-3.3z"/><path class="c0" d="M366.5 457.5l3.5-4l5.2 4.6l-3.6 1.1z"/><path class="c0" d="M290.6 457.3l3.6-5l5.2 0.7l-3.6 6z"/><path class="c0" d="M311.8 450.6l3.6 0.9l5.2 1.8l-3.6-0.8z"/><path class="c0" d="M333 452.6l3.5 0.5l5.2 0.7l-3.5 1z"/><path class="c0" d="M354.1 457.9l3.6-3.2l5.2 3.8l-3.6 1.1z"/><path class="c0" d="M299.4 453l3.6-1.7l5.2 0.6l-3.6 3.2z"/><path class="c0" d="M320.6 453.3l3.6-0.8l5.2 2.1l-3.6 0.8z"/><path class="c0" d="M341.7 453.8l3.6-1.4l5.2 2.2l-3.6 0.7z"/><path class="c0" d="M308.2 451.9l3.6-1.3l5.2 1.9l-3.6 1.2z"/><path class="c0" d="M329.4 454.6l3.6-2l5.2 2.2l-3.6 2.2z"/><path class="c0" d="M350.5 454.6l3.6 3.3l5.2 1.7l-3.6-2.6z"/><path class="c0" d="M295.8 459l3.6-6l5.2 2.1l-3.6 5.6z"/><path class="c0" d="M317 452.5l3.6 0.8l5.2 2.1l-3.6 0.1z"/><path class="c0" d="M338.2 454.8l3.5-1l5.2 1.5l-3.5 3.8z"/><path class="c0" d="M304.6 455.1l3.6-3.2l5.2 1.8l-3.6 3.2z"/><path class="c0" d="M325.8 455.4l3.6-0.8l5.2 2.4l-3.6-1z"/><path class="c0" d="M346.9 455.3l3.6-0.7l5.2 2.4l-3.6-0.2z"/><path class="c0" d="M313.4 453.7l3.6-1.2l5.2 3l-3.6 1.2z"/><path class="c0" d="M334.6 457l3.6-2.2l5.2 4.3l-3.6-0.4z"/><path class="c0" d="M355.7 457l3.6 2.6l5.2 1.7l-3.6 1z"/><path class="c0" d="M301 460.7l3.6-5.6l5.2 1.8l-3.5 5.5z"/><path class="c0" d="M322.2 455.5l3.6-0.1l5.2 0.6l-3.6 3.1z"/><path class="c0" d="M343.4 459.1l3.5-3.8l5.2 1.5l-3.5 3.2z"/><path class="c0" d="M309.8 456.9l3.6-3.2l5.2 3l-3.6 2.8z"/><path class="c0" d="M331 456l3.6 1l5.2 1.7l-3.6 1.4z"/><path class="c0" d="M352.1 456.8l3.6 0.2l5.2 5.3l-3.6-1.7z"/><path class="c0" d="M318.6 456.7l3.6-1.2l5.2 3.6l-3.6 0.4z"/><path class="c0" d="M339.8 458.7l3.6 0.4l5.2 0.9l-3.6-1.4z"/><path class="c0" d="M306.3 462.4l3.5-5.5l5.2 2.6l-3.5 4.6z"/><path class="c0" d="M327.4 459.1l3.6-3.1l5.2 4.1l-3.6-0.1z"/><path class="c0" d="M348.6 460l3.5-3.2l5.2 3.8l-3.5 0.2z"/><path class="c0" d="M315 459.5l3.6-2.8l5.2 2.8l-3.6 2.3z"/><path class="c0" d="M336.2 460.1l3.6-1.4l5.2-0.1l-3.6 2.2z"/><path class="c0" d="M357.3 460.6l3.6 1.7l5.2 1.7l-3.6 1.1z"/><path class="c0" d="M323.8 459.5l3.6-0.4l5.2 0.9l-3.6 2.7z"/><path class="c0" d="M345 458.6l3.6 1.4l5.2 0.8l-3.6 2.2z"/><path class="c0" d="M311.5 464.1l3.5-4.6l5.2 2.3l-3.5 3.9z"/><path class="c0" d="M332.6 460l3.6 0.1l5.2 0.7l-3.6 0.6z"/><path class="c0" d="M353.8 460.8l3.5-0.2l5.2 4.5l-3.5-1.9z"/><path class="c0" d="M320.2 461.8l3.6-2.3l5.2 3.2l-3.5-1.3z"/><path class="c0" d="M341.4 460.8l3.6-2.2l5.2 4.4l-3.6 0z"/><path class="c0" d="M329 462.7l3.6-2.7l5.2 1.4l-3.6 2.3z"/><path class="c0" d="M350.2 463l3.6-2.2l5.2 2.4l-3.6 2z"/><path class="c0" d="M316.7 465.7l3.5-3.9l5.3-0.4l-3.6 6z"/><path class="c0" d="M337.8 461.4l3.6-0.6l5.2 2.2l-3.6-0.1z"/><path class="c0" d="M359 463.2l3.5 1.9l5.2 1.7l-3.5 1z"/><path class="c0" d="M325.5 461.4l3.5 1.3l5.2 1l-3.5 0.6z"/><path class="c0" d="M346.6 463l3.6 0l5.2 2.2l-3.6 0.7z"/><path class="c0" d="M334.2 463.7l3.6-2.3l5.2 1.5l-3.6 0.3z"/><path class="c0" d="M355.4 465.2l3.6-2l5.2 4.6l-3.6-1.1z"/><path class="c0" d="M321.9 467.4l3.6-6l5.2 2.9l-3.6 4.8z"/><path class="c0" d="M343 462.9l3.6 0.1l5.2 2.9l-3.6 1.2z"/><path class="c0" d="M330.7 464.3l3.5-0.6l5.2-0.5l-3.5 3.4z"/><path class="c0" d="M351.8 465.9l3.6-0.7l5.2 1.5l-3.6-2.1z"/><path class="c0" d="M339.4 463.2l3.6-0.3l5.2 4.2l-3.6-1.8z"/><path class="c0" d="M360.6 466.7l3.6 1.1l5.2 1.7l-3.6 1.1z"/><path class="c0" d="M327.1 469.1l3.6-4.8l5.2 2.3l-3.6 4.2z"/><path class="c0" d="M348.2 467.1l3.6-1.2l5.2-1.3l-3.6 3.9z"/><path class="c0" d="M335.9 466.6l3.5-3.4l5.2 2.1l-3.5 1.7z"/><path class="c0" d="M357 464.6l3.6 2.1l5.2 3.9l-3.6 1z"/><path class="c0" d="M344.6 465.3l3.6 1.8l5.2 1.4l-3.6-0.8z"/><path class="c0" d="M332.3 470.8l3.6-4.2l5.2 0.4l-3.6 3.7z"/><path class="c0" d="M353.4 468.5l3.6-3.9l5.2 7l-3.6 1.1z"/><path class="c0" d="M341.1 467l3.5-1.7l5.2 2.4l-3.5-0.1z"/><path class="c0" d="M328.7 471.9l3.6-1.1l5.2-0.1l-3.6 2.8z"/><path class="c0" d="M349.8 467.7l3.6 0.8l5.2 4.2l-3.6-3.7z"/><path class="c0" d="M337.5 470.7l3.6-3.7l5.2 0.6l-3.6 3.6z"/><path class="c0" d="M346.3 467.6l3.5 0.1l5.2 1.3l-3.5 0.6z"/><path class="c0" d="M333.9 473.5l3.6-2.8l5.2 0.5l-3.6 4z"/><path class="c0" d="M355 469l3.6 3.7l5.2 1.7l-3.6-3.2z"/><path class="c0" d="M342.7 471.2l3.6-3.6l5.2 2l-3.6 3.4z"/><path class="c0" d="M351.5 469.6l3.5-0.6l5.2 2.2l-3.5 1.2z"/><path class="c0" d="M339.1 475.2l3.6-4l5.2 1.8l-3.6 3.9z"/><path class="c0" d="M360.2 471.2l3.6 3.2l5.2 1.6l-3.5 1.1z"/><path class="c0" d="M347.9 473l3.6-3.4l5.2 2.8l-3.6 0.8z"/><path class="c0" d="M356.7 472.4l3.5-1.2l5.3 5.9l-3.6 1.1z"/><path class="c0" d="M344.3 476.9l3.6-3.9l5.2 0.2l-3.6 5.4z"/><path class="c0" d="M353.1 473.2l3.6-0.8l5.2 5.8l-3.6 1z"/><path class="c0" d="M349.5 478.6l3.6-5.4l5.2 6l-3.6 1.1z"/></g><g fill="none" stroke-width="1.7" stroke-linecap="round" stroke-linejoin="round"><path d="M200.6 206L201.3 222L202 318L206 326" stroke="#e8902c"/><path d="M429.5 204L425 232L420.5 283" stroke="#e8782c"/><path d="M431.5 204L434.5 232L437 260" stroke="#c8e040"/><path d="M222 326L224.5 352" stroke="#b8e050"/></g><path d="M116 143V418.5" stroke="#111" stroke-width="2" fill="none"/><path d="M116 418.5l-10 -3M116 349.7l-10 -3M116 280.9l-10 -3M116 212.1l-10 -3M116 143.3l-10 -3M241.5 462l-7 2.2M367.5 503l-7 2.2M494 544.5l-7 2.2M533 553l8 2.6M640 521l8 2.6M747 489l8 2.6M855 457l8 2.6M961.5 425l8 2.6" stroke="#222" stroke-width="1.8" fill="none"/><text class="tk" transform="translate(81.8 146.4) scale(1.18 1)" text-anchor="middle">80</text><text class="tk" transform="translate(82.0 215.6) scale(1.18 1)" text-anchor="middle">60</text><text class="tk" transform="translate(82.0 284.6) scale(1.18 1)" text-anchor="middle">40</text><text class="tk" transform="translate(82.0 353.0) scale(1.18 1)" text-anchor="middle">20</text><text class="tk" transform="translate(89.0 420.7) scale(1.18 1)" text-anchor="middle">0</text><text class="tk" transform="translate(89.0 445.5) scale(1.18 1)" text-anchor="middle">0</text><text class="tk" transform="translate(205.7 487.0) scale(1.18 1)" text-anchor="middle">200</text><text class="tk" transform="translate(334.1 529.3) scale(1.18 1)" text-anchor="middle">400</text><text class="tk" transform="translate(462.0 570.8) scale(1.18 1)" text-anchor="middle">600</text><text class="tk" transform="translate(549.5 577.5) scale(1.18 1)" text-anchor="middle">0</text><text class="tk" transform="translate(665.1 548.0) scale(1.18 1)" text-anchor="middle">90</text><text class="tk" transform="translate(781.9 516.7) scale(1.18 1)" text-anchor="middle">180</text><text class="tk" transform="translate(887.6 483.7) scale(1.18 1)" text-anchor="middle">270</text><text class="tk" transform="translate(996.2 453.7) scale(1.18 1)" text-anchor="middle">360</text><text class="ti" x="131.5" y="609.7" style="font-size:28.6px">Amplitude (pC)</text><text class="ti" x="689.5" y="591.8" style="font-size:28.3px">Phase angle (°)</text><text class="ti" transform="translate(34.5 430.5) rotate(-90)" style="font-size:28.7px">Number of discharges</text></svg></body></html>
